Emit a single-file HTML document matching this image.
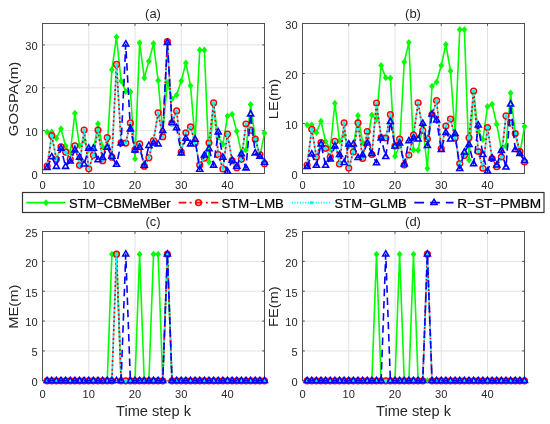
<!DOCTYPE html>
<html lang="en"><head><meta charset="utf-8"><title>GOSPA comparison</title>
<style>html,body{margin:0;padding:0;background:#fff}svg{display:block}</style></head>
<body>
<svg width="550" height="424" viewBox="0 0 550 424" font-family="'Liberation Sans', sans-serif" fill="#262626">
<rect width="550" height="424" fill="#fff"/>
<g id="ax-a">
<path d="M88.75 23.5V173.5M135.00 23.5V173.5M181.25 23.5V173.5M227.50 23.5V173.5M42.5 130.64H264.5M42.5 87.79H264.5M42.5 44.93H264.5" stroke="#e2e2e2" stroke-width="1" fill="none"/>
<path d="M42.50 173.5v-2.3M42.50 23.5v2.3M88.75 173.5v-2.3M88.75 23.5v2.3M135.00 173.5v-2.3M135.00 23.5v2.3M181.25 173.5v-2.3M181.25 23.5v2.3M227.50 173.5v-2.3M227.50 23.5v2.3M42.5 173.50h2.3M264.5 173.50h-2.3M42.5 130.64h2.3M264.5 130.64h-2.3M42.5 87.79h2.3M264.5 87.79h-2.3M42.5 44.93h2.3M264.5 44.93h-2.3" stroke="#505050" stroke-width="1" fill="none"/>
<rect x="42.5" y="23.5" width="222.0" height="150.0" fill="none" stroke="#505050" stroke-width="1"/>
<clipPath id="clip-a"><rect x="37.5" y="18.5" width="232.0" height="160.0"/></clipPath>
<g clip-path="url(#clip-a)">
<path d="M47.12 131.93L51.75 131.93L56.38 138.36L61.00 128.71L65.62 146.07L70.25 152.50L74.88 113.29L79.50 145.64L84.12 140.50L88.75 149.93L93.38 151.21L98.00 123.79L102.62 146.93L107.25 146.50L111.88 69.72L116.50 36.93L121.12 80.93L125.75 91.43L130.38 91.64L135.00 158.71L139.62 42.86L144.25 77.93L148.88 61.21L153.50 43.44L158.12 80.48L162.75 132.79L167.38 82.54L172.00 98.71L176.62 95.07L181.25 80.93L185.88 62.93L190.50 85.64L195.12 140.07L199.75 50.07L204.38 50.07L209.00 161.93L213.62 104.93L218.25 137.07L222.88 144.36L227.50 116.07L232.12 114.14L236.75 131.29L241.38 152.93L246.00 149.93L250.62 104.50L255.25 139.21L259.88 156.36L264.50 133.21" fill="none" stroke="#00ff00" stroke-width="1.6" stroke-linejoin="round"/>
<path d="M47.12 128.43L50.02 131.93L47.12 135.43L44.23 131.93Z" fill="#00ff00"/><path d="M51.75 128.43L54.65 131.93L51.75 135.43L48.85 131.93Z" fill="#00ff00"/><path d="M56.38 134.86L59.27 138.36L56.38 141.86L53.48 138.36Z" fill="#00ff00"/><path d="M61.00 125.21L63.90 128.71L61.00 132.21L58.10 128.71Z" fill="#00ff00"/><path d="M65.62 142.57L68.53 146.07L65.62 149.57L62.73 146.07Z" fill="#00ff00"/><path d="M70.25 149.00L73.15 152.50L70.25 156.00L67.35 152.50Z" fill="#00ff00"/><path d="M74.88 109.79L77.78 113.29L74.88 116.79L71.97 113.29Z" fill="#00ff00"/><path d="M79.50 142.14L82.40 145.64L79.50 149.14L76.60 145.64Z" fill="#00ff00"/><path d="M84.12 137.00L87.03 140.50L84.12 144.00L81.22 140.50Z" fill="#00ff00"/><path d="M88.75 146.43L91.65 149.93L88.75 153.43L85.85 149.93Z" fill="#00ff00"/><path d="M93.38 147.71L96.28 151.21L93.38 154.71L90.47 151.21Z" fill="#00ff00"/><path d="M98.00 120.29L100.90 123.79L98.00 127.29L95.10 123.79Z" fill="#00ff00"/><path d="M102.62 143.43L105.53 146.93L102.62 150.43L99.72 146.93Z" fill="#00ff00"/><path d="M107.25 143.00L110.15 146.50L107.25 150.00L104.35 146.50Z" fill="#00ff00"/><path d="M111.88 66.22L114.78 69.72L111.88 73.22L108.97 69.72Z" fill="#00ff00"/><path d="M116.50 33.43L119.40 36.93L116.50 40.43L113.60 36.93Z" fill="#00ff00"/><path d="M121.12 77.43L124.03 80.93L121.12 84.43L118.22 80.93Z" fill="#00ff00"/><path d="M125.75 87.93L128.65 91.43L125.75 94.93L122.85 91.43Z" fill="#00ff00"/><path d="M130.38 88.14L133.28 91.64L130.38 95.14L127.47 91.64Z" fill="#00ff00"/><path d="M135.00 155.21L137.90 158.71L135.00 162.21L132.10 158.71Z" fill="#00ff00"/><path d="M139.62 39.36L142.53 42.86L139.62 46.36L136.72 42.86Z" fill="#00ff00"/><path d="M144.25 74.43L147.15 77.93L144.25 81.43L141.35 77.93Z" fill="#00ff00"/><path d="M148.88 57.71L151.78 61.21L148.88 64.71L145.97 61.21Z" fill="#00ff00"/><path d="M153.50 39.94L156.40 43.44L153.50 46.94L150.60 43.44Z" fill="#00ff00"/><path d="M158.12 76.98L161.03 80.48L158.12 83.98L155.22 80.48Z" fill="#00ff00"/><path d="M162.75 129.29L165.65 132.79L162.75 136.29L159.85 132.79Z" fill="#00ff00"/><path d="M167.38 79.04L170.28 82.54L167.38 86.04L164.47 82.54Z" fill="#00ff00"/><path d="M172.00 95.21L174.90 98.71L172.00 102.21L169.10 98.71Z" fill="#00ff00"/><path d="M176.62 91.57L179.53 95.07L176.62 98.57L173.72 95.07Z" fill="#00ff00"/><path d="M181.25 77.43L184.15 80.93L181.25 84.43L178.35 80.93Z" fill="#00ff00"/><path d="M185.88 59.43L188.78 62.93L185.88 66.43L182.97 62.93Z" fill="#00ff00"/><path d="M190.50 82.14L193.40 85.64L190.50 89.14L187.60 85.64Z" fill="#00ff00"/><path d="M195.12 136.57L198.03 140.07L195.12 143.57L192.22 140.07Z" fill="#00ff00"/><path d="M199.75 46.57L202.65 50.07L199.75 53.57L196.85 50.07Z" fill="#00ff00"/><path d="M204.38 46.57L207.28 50.07L204.38 53.57L201.47 50.07Z" fill="#00ff00"/><path d="M209.00 158.43L211.90 161.93L209.00 165.43L206.10 161.93Z" fill="#00ff00"/><path d="M213.62 101.43L216.53 104.93L213.62 108.43L210.72 104.93Z" fill="#00ff00"/><path d="M218.25 133.57L221.15 137.07L218.25 140.57L215.35 137.07Z" fill="#00ff00"/><path d="M222.88 140.86L225.78 144.36L222.88 147.86L219.97 144.36Z" fill="#00ff00"/><path d="M227.50 112.57L230.40 116.07L227.50 119.57L224.60 116.07Z" fill="#00ff00"/><path d="M232.12 110.64L235.03 114.14L232.12 117.64L229.22 114.14Z" fill="#00ff00"/><path d="M236.75 127.79L239.65 131.29L236.75 134.79L233.85 131.29Z" fill="#00ff00"/><path d="M241.38 149.43L244.28 152.93L241.38 156.43L238.47 152.93Z" fill="#00ff00"/><path d="M246.00 146.43L248.90 149.93L246.00 153.43L243.10 149.93Z" fill="#00ff00"/><path d="M250.62 101.00L253.53 104.50L250.62 108.00L247.72 104.50Z" fill="#00ff00"/><path d="M255.25 135.71L258.15 139.21L255.25 142.71L252.35 139.21Z" fill="#00ff00"/><path d="M259.88 152.86L262.77 156.36L259.88 159.86L256.98 156.36Z" fill="#00ff00"/><path d="M264.50 129.71L267.40 133.21L264.50 136.71L261.60 133.21Z" fill="#00ff00"/>
<path d="M47.12 166.21L51.75 135.57L56.38 159.36L61.00 146.93L65.62 152.07L70.25 159.36L74.88 145.86L79.50 165.36L84.12 130.00L88.75 168.79L93.38 155.07L98.00 130.00L102.62 160.64L107.25 137.50L111.88 157.21L116.50 64.38L121.12 142.64L125.75 143.07L130.38 122.93L135.00 149.93L139.62 143.93L144.25 166.21L148.88 157.64L153.50 140.50L158.12 112.86L162.75 136.64L167.38 41.65L172.00 122.93L176.62 110.93L181.25 152.07L185.88 132.79L190.50 126.79L195.12 143.07L199.75 164.93L204.38 158.07L209.00 142.86L213.62 102.79L218.25 154.64L222.88 169.00L227.50 134.07L232.12 160.64L236.75 167.71L241.38 159.36L246.00 124.00L250.62 130.21L255.25 139.21L259.88 154.64L264.50 163.64" fill="none" stroke="#ff0000" stroke-width="1.8" stroke-linejoin="round" stroke-dasharray="2.2 2.2" stroke-dashoffset="0"/>
<circle cx="47.12" cy="166.21" r="2.85" fill="none" stroke="#ff0000" stroke-width="1.5"/><circle cx="51.75" cy="135.57" r="2.85" fill="none" stroke="#ff0000" stroke-width="1.5"/><circle cx="56.38" cy="159.36" r="2.85" fill="none" stroke="#ff0000" stroke-width="1.5"/><circle cx="61.00" cy="146.93" r="2.85" fill="none" stroke="#ff0000" stroke-width="1.5"/><circle cx="65.62" cy="152.07" r="2.85" fill="none" stroke="#ff0000" stroke-width="1.5"/><circle cx="70.25" cy="159.36" r="2.85" fill="none" stroke="#ff0000" stroke-width="1.5"/><circle cx="74.88" cy="145.86" r="2.85" fill="none" stroke="#ff0000" stroke-width="1.5"/><circle cx="79.50" cy="165.36" r="2.85" fill="none" stroke="#ff0000" stroke-width="1.5"/><circle cx="84.12" cy="130.00" r="2.85" fill="none" stroke="#ff0000" stroke-width="1.5"/><circle cx="88.75" cy="168.79" r="2.85" fill="none" stroke="#ff0000" stroke-width="1.5"/><circle cx="93.38" cy="155.07" r="2.85" fill="none" stroke="#ff0000" stroke-width="1.5"/><circle cx="98.00" cy="130.00" r="2.85" fill="none" stroke="#ff0000" stroke-width="1.5"/><circle cx="102.62" cy="160.64" r="2.85" fill="none" stroke="#ff0000" stroke-width="1.5"/><circle cx="107.25" cy="137.50" r="2.85" fill="none" stroke="#ff0000" stroke-width="1.5"/><circle cx="111.88" cy="157.21" r="2.85" fill="none" stroke="#ff0000" stroke-width="1.5"/><circle cx="116.50" cy="64.38" r="2.85" fill="none" stroke="#ff0000" stroke-width="1.5"/><circle cx="121.12" cy="142.64" r="2.85" fill="none" stroke="#ff0000" stroke-width="1.5"/><circle cx="125.75" cy="143.07" r="2.85" fill="none" stroke="#ff0000" stroke-width="1.5"/><circle cx="130.38" cy="122.93" r="2.85" fill="none" stroke="#ff0000" stroke-width="1.5"/><circle cx="135.00" cy="149.93" r="2.85" fill="none" stroke="#ff0000" stroke-width="1.5"/><circle cx="139.62" cy="143.93" r="2.85" fill="none" stroke="#ff0000" stroke-width="1.5"/><circle cx="144.25" cy="166.21" r="2.85" fill="none" stroke="#ff0000" stroke-width="1.5"/><circle cx="148.88" cy="157.64" r="2.85" fill="none" stroke="#ff0000" stroke-width="1.5"/><circle cx="153.50" cy="140.50" r="2.85" fill="none" stroke="#ff0000" stroke-width="1.5"/><circle cx="158.12" cy="112.86" r="2.85" fill="none" stroke="#ff0000" stroke-width="1.5"/><circle cx="162.75" cy="136.64" r="2.85" fill="none" stroke="#ff0000" stroke-width="1.5"/><circle cx="167.38" cy="41.65" r="2.85" fill="none" stroke="#ff0000" stroke-width="1.5"/><circle cx="172.00" cy="122.93" r="2.85" fill="none" stroke="#ff0000" stroke-width="1.5"/><circle cx="176.62" cy="110.93" r="2.85" fill="none" stroke="#ff0000" stroke-width="1.5"/><circle cx="181.25" cy="152.07" r="2.85" fill="none" stroke="#ff0000" stroke-width="1.5"/><circle cx="185.88" cy="132.79" r="2.85" fill="none" stroke="#ff0000" stroke-width="1.5"/><circle cx="190.50" cy="126.79" r="2.85" fill="none" stroke="#ff0000" stroke-width="1.5"/><circle cx="195.12" cy="143.07" r="2.85" fill="none" stroke="#ff0000" stroke-width="1.5"/><circle cx="199.75" cy="164.93" r="2.85" fill="none" stroke="#ff0000" stroke-width="1.5"/><circle cx="204.38" cy="158.07" r="2.85" fill="none" stroke="#ff0000" stroke-width="1.5"/><circle cx="209.00" cy="142.86" r="2.85" fill="none" stroke="#ff0000" stroke-width="1.5"/><circle cx="213.62" cy="102.79" r="2.85" fill="none" stroke="#ff0000" stroke-width="1.5"/><circle cx="218.25" cy="154.64" r="2.85" fill="none" stroke="#ff0000" stroke-width="1.5"/><circle cx="222.88" cy="169.00" r="2.85" fill="none" stroke="#ff0000" stroke-width="1.5"/><circle cx="227.50" cy="134.07" r="2.85" fill="none" stroke="#ff0000" stroke-width="1.5"/><circle cx="232.12" cy="160.64" r="2.85" fill="none" stroke="#ff0000" stroke-width="1.5"/><circle cx="236.75" cy="167.71" r="2.85" fill="none" stroke="#ff0000" stroke-width="1.5"/><circle cx="241.38" cy="159.36" r="2.85" fill="none" stroke="#ff0000" stroke-width="1.5"/><circle cx="246.00" cy="124.00" r="2.85" fill="none" stroke="#ff0000" stroke-width="1.5"/><circle cx="250.62" cy="130.21" r="2.85" fill="none" stroke="#ff0000" stroke-width="1.5"/><circle cx="255.25" cy="139.21" r="2.85" fill="none" stroke="#ff0000" stroke-width="1.5"/><circle cx="259.88" cy="154.64" r="2.85" fill="none" stroke="#ff0000" stroke-width="1.5"/><circle cx="264.50" cy="163.64" r="2.85" fill="none" stroke="#ff0000" stroke-width="1.5"/>
<path d="M47.12 166.21L51.75 135.57L56.38 159.36L61.00 146.93L65.62 152.07L70.25 159.36L74.88 145.86L79.50 165.36L84.12 130.00L88.75 168.79L93.38 155.07L98.00 130.00L102.62 160.64L107.25 137.50L111.88 157.21L116.50 64.38L121.12 142.64L125.75 143.07L130.38 122.93L135.00 149.93L139.62 143.93L144.25 166.21L148.88 157.64L153.50 140.50L158.12 112.86L162.75 136.64L167.38 41.65L172.00 125.07L176.62 110.93L181.25 152.07L185.88 132.79L190.50 126.79L195.12 143.07L199.75 164.93L204.38 158.07L209.00 142.86L213.62 102.79L218.25 154.64L222.88 169.00L227.50 134.07L232.12 160.64L236.75 167.71L241.38 159.36L246.00 124.00L250.62 130.21L255.25 139.21L259.88 154.64L264.50 163.64" fill="none" stroke="#00ffff" stroke-width="1.7" stroke-linejoin="round" stroke-dasharray="2.2 2.2" stroke-dashoffset="2.2"/>
<rect x="45.62" y="164.71" width="3" height="3" fill="#00ffff"/><rect x="50.25" y="134.07" width="3" height="3" fill="#00ffff"/><rect x="54.88" y="157.86" width="3" height="3" fill="#00ffff"/><rect x="59.50" y="145.43" width="3" height="3" fill="#00ffff"/><rect x="64.12" y="150.57" width="3" height="3" fill="#00ffff"/><rect x="68.75" y="157.86" width="3" height="3" fill="#00ffff"/><rect x="73.38" y="144.36" width="3" height="3" fill="#00ffff"/><rect x="78.00" y="163.86" width="3" height="3" fill="#00ffff"/><rect x="82.62" y="128.50" width="3" height="3" fill="#00ffff"/><rect x="87.25" y="167.29" width="3" height="3" fill="#00ffff"/><rect x="91.88" y="153.57" width="3" height="3" fill="#00ffff"/><rect x="96.50" y="128.50" width="3" height="3" fill="#00ffff"/><rect x="101.12" y="159.14" width="3" height="3" fill="#00ffff"/><rect x="105.75" y="136.00" width="3" height="3" fill="#00ffff"/><rect x="110.38" y="155.71" width="3" height="3" fill="#00ffff"/><rect x="115.00" y="62.88" width="3" height="3" fill="#00ffff"/><rect x="119.62" y="141.14" width="3" height="3" fill="#00ffff"/><rect x="124.25" y="141.57" width="3" height="3" fill="#00ffff"/><rect x="128.88" y="121.43" width="3" height="3" fill="#00ffff"/><rect x="133.50" y="148.43" width="3" height="3" fill="#00ffff"/><rect x="138.12" y="142.43" width="3" height="3" fill="#00ffff"/><rect x="142.75" y="164.71" width="3" height="3" fill="#00ffff"/><rect x="147.38" y="156.14" width="3" height="3" fill="#00ffff"/><rect x="152.00" y="139.00" width="3" height="3" fill="#00ffff"/><rect x="156.62" y="111.36" width="3" height="3" fill="#00ffff"/><rect x="161.25" y="135.14" width="3" height="3" fill="#00ffff"/><rect x="165.88" y="40.15" width="3" height="3" fill="#00ffff"/><rect x="170.50" y="123.57" width="3" height="3" fill="#00ffff"/><rect x="175.12" y="109.43" width="3" height="3" fill="#00ffff"/><rect x="179.75" y="150.57" width="3" height="3" fill="#00ffff"/><rect x="184.38" y="131.29" width="3" height="3" fill="#00ffff"/><rect x="189.00" y="125.29" width="3" height="3" fill="#00ffff"/><rect x="193.62" y="141.57" width="3" height="3" fill="#00ffff"/><rect x="198.25" y="163.43" width="3" height="3" fill="#00ffff"/><rect x="202.88" y="156.57" width="3" height="3" fill="#00ffff"/><rect x="207.50" y="141.36" width="3" height="3" fill="#00ffff"/><rect x="212.12" y="101.29" width="3" height="3" fill="#00ffff"/><rect x="216.75" y="153.14" width="3" height="3" fill="#00ffff"/><rect x="221.38" y="167.50" width="3" height="3" fill="#00ffff"/><rect x="226.00" y="132.57" width="3" height="3" fill="#00ffff"/><rect x="230.62" y="159.14" width="3" height="3" fill="#00ffff"/><rect x="235.25" y="166.21" width="3" height="3" fill="#00ffff"/><rect x="239.88" y="157.86" width="3" height="3" fill="#00ffff"/><rect x="244.50" y="122.50" width="3" height="3" fill="#00ffff"/><rect x="249.12" y="128.71" width="3" height="3" fill="#00ffff"/><rect x="253.75" y="137.71" width="3" height="3" fill="#00ffff"/><rect x="258.38" y="153.14" width="3" height="3" fill="#00ffff"/><rect x="263.00" y="162.14" width="3" height="3" fill="#00ffff"/>
<path d="M47.12 167.71L51.75 157.00L56.38 166.64L61.00 148.43L65.62 166.64L70.25 161.29L74.88 150.14L79.50 157.43L84.12 164.29L88.75 148.43L93.38 148.43L98.00 160.00L102.62 157.64L107.25 147.57L111.88 156.57L116.50 164.50L121.12 143.29L125.75 44.21L130.38 129.14L135.00 150.14L139.62 147.57L144.25 165.57L148.88 145.64L153.50 143.29L158.12 144.14L162.75 130.64L167.38 42.83L172.00 122.71L176.62 127.86L181.25 153.14L185.88 138.57L190.50 144.14L195.12 139.43L199.75 169.43L204.38 155.29L209.00 148.86L213.62 165.36L218.25 132.14L222.88 157.43L227.50 171.57L232.12 160.43L236.75 166.43L241.38 154.00L246.00 168.14L250.62 114.14L255.25 153.14L259.88 156.57L264.50 162.57" fill="none" stroke="#0000ff" stroke-width="1.6" stroke-linejoin="round" stroke-dasharray="7.5 4.7" stroke-dashoffset="0"/>
<path d="M47.12 164.21L50.12 169.46L44.12 169.46Z" fill="none" stroke="#0000ff" stroke-width="1.55" stroke-linejoin="miter"/><path d="M51.75 153.50L54.75 158.75L48.75 158.75Z" fill="none" stroke="#0000ff" stroke-width="1.55" stroke-linejoin="miter"/><path d="M56.38 163.14L59.38 168.39L53.38 168.39Z" fill="none" stroke="#0000ff" stroke-width="1.55" stroke-linejoin="miter"/><path d="M61.00 144.93L64.00 150.18L58.00 150.18Z" fill="none" stroke="#0000ff" stroke-width="1.55" stroke-linejoin="miter"/><path d="M65.62 163.14L68.62 168.39L62.62 168.39Z" fill="none" stroke="#0000ff" stroke-width="1.55" stroke-linejoin="miter"/><path d="M70.25 157.79L73.25 163.04L67.25 163.04Z" fill="none" stroke="#0000ff" stroke-width="1.55" stroke-linejoin="miter"/><path d="M74.88 146.64L77.88 151.89L71.88 151.89Z" fill="none" stroke="#0000ff" stroke-width="1.55" stroke-linejoin="miter"/><path d="M79.50 153.93L82.50 159.18L76.50 159.18Z" fill="none" stroke="#0000ff" stroke-width="1.55" stroke-linejoin="miter"/><path d="M84.12 160.79L87.12 166.04L81.12 166.04Z" fill="none" stroke="#0000ff" stroke-width="1.55" stroke-linejoin="miter"/><path d="M88.75 144.93L91.75 150.18L85.75 150.18Z" fill="none" stroke="#0000ff" stroke-width="1.55" stroke-linejoin="miter"/><path d="M93.38 144.93L96.38 150.18L90.38 150.18Z" fill="none" stroke="#0000ff" stroke-width="1.55" stroke-linejoin="miter"/><path d="M98.00 156.50L101.00 161.75L95.00 161.75Z" fill="none" stroke="#0000ff" stroke-width="1.55" stroke-linejoin="miter"/><path d="M102.62 154.14L105.62 159.39L99.62 159.39Z" fill="none" stroke="#0000ff" stroke-width="1.55" stroke-linejoin="miter"/><path d="M107.25 144.07L110.25 149.32L104.25 149.32Z" fill="none" stroke="#0000ff" stroke-width="1.55" stroke-linejoin="miter"/><path d="M111.88 153.07L114.88 158.32L108.88 158.32Z" fill="none" stroke="#0000ff" stroke-width="1.55" stroke-linejoin="miter"/><path d="M116.50 161.00L119.50 166.25L113.50 166.25Z" fill="none" stroke="#0000ff" stroke-width="1.55" stroke-linejoin="miter"/><path d="M121.12 139.79L124.12 145.04L118.12 145.04Z" fill="none" stroke="#0000ff" stroke-width="1.55" stroke-linejoin="miter"/><path d="M125.75 40.71L128.75 45.96L122.75 45.96Z" fill="none" stroke="#0000ff" stroke-width="1.55" stroke-linejoin="miter"/><path d="M130.38 125.64L133.38 130.89L127.38 130.89Z" fill="none" stroke="#0000ff" stroke-width="1.55" stroke-linejoin="miter"/><path d="M135.00 146.64L138.00 151.89L132.00 151.89Z" fill="none" stroke="#0000ff" stroke-width="1.55" stroke-linejoin="miter"/><path d="M139.62 144.07L142.62 149.32L136.62 149.32Z" fill="none" stroke="#0000ff" stroke-width="1.55" stroke-linejoin="miter"/><path d="M144.25 162.07L147.25 167.32L141.25 167.32Z" fill="none" stroke="#0000ff" stroke-width="1.55" stroke-linejoin="miter"/><path d="M148.88 142.14L151.88 147.39L145.88 147.39Z" fill="none" stroke="#0000ff" stroke-width="1.55" stroke-linejoin="miter"/><path d="M153.50 139.79L156.50 145.04L150.50 145.04Z" fill="none" stroke="#0000ff" stroke-width="1.55" stroke-linejoin="miter"/><path d="M158.12 140.64L161.12 145.89L155.12 145.89Z" fill="none" stroke="#0000ff" stroke-width="1.55" stroke-linejoin="miter"/><path d="M162.75 127.14L165.75 132.39L159.75 132.39Z" fill="none" stroke="#0000ff" stroke-width="1.55" stroke-linejoin="miter"/><path d="M167.38 39.33L170.38 44.58L164.38 44.58Z" fill="none" stroke="#0000ff" stroke-width="1.55" stroke-linejoin="miter"/><path d="M172.00 119.21L175.00 124.46L169.00 124.46Z" fill="none" stroke="#0000ff" stroke-width="1.55" stroke-linejoin="miter"/><path d="M176.62 124.36L179.62 129.61L173.62 129.61Z" fill="none" stroke="#0000ff" stroke-width="1.55" stroke-linejoin="miter"/><path d="M181.25 149.64L184.25 154.89L178.25 154.89Z" fill="none" stroke="#0000ff" stroke-width="1.55" stroke-linejoin="miter"/><path d="M185.88 135.07L188.88 140.32L182.88 140.32Z" fill="none" stroke="#0000ff" stroke-width="1.55" stroke-linejoin="miter"/><path d="M190.50 140.64L193.50 145.89L187.50 145.89Z" fill="none" stroke="#0000ff" stroke-width="1.55" stroke-linejoin="miter"/><path d="M195.12 135.93L198.12 141.18L192.12 141.18Z" fill="none" stroke="#0000ff" stroke-width="1.55" stroke-linejoin="miter"/><path d="M199.75 165.93L202.75 171.18L196.75 171.18Z" fill="none" stroke="#0000ff" stroke-width="1.55" stroke-linejoin="miter"/><path d="M204.38 151.79L207.38 157.04L201.38 157.04Z" fill="none" stroke="#0000ff" stroke-width="1.55" stroke-linejoin="miter"/><path d="M209.00 145.36L212.00 150.61L206.00 150.61Z" fill="none" stroke="#0000ff" stroke-width="1.55" stroke-linejoin="miter"/><path d="M213.62 161.86L216.62 167.11L210.62 167.11Z" fill="none" stroke="#0000ff" stroke-width="1.55" stroke-linejoin="miter"/><path d="M218.25 128.64L221.25 133.89L215.25 133.89Z" fill="none" stroke="#0000ff" stroke-width="1.55" stroke-linejoin="miter"/><path d="M222.88 153.93L225.88 159.18L219.88 159.18Z" fill="none" stroke="#0000ff" stroke-width="1.55" stroke-linejoin="miter"/><path d="M227.50 168.07L230.50 173.32L224.50 173.32Z" fill="none" stroke="#0000ff" stroke-width="1.55" stroke-linejoin="miter"/><path d="M232.12 156.93L235.12 162.18L229.12 162.18Z" fill="none" stroke="#0000ff" stroke-width="1.55" stroke-linejoin="miter"/><path d="M236.75 162.93L239.75 168.18L233.75 168.18Z" fill="none" stroke="#0000ff" stroke-width="1.55" stroke-linejoin="miter"/><path d="M241.38 150.50L244.38 155.75L238.38 155.75Z" fill="none" stroke="#0000ff" stroke-width="1.55" stroke-linejoin="miter"/><path d="M246.00 164.64L249.00 169.89L243.00 169.89Z" fill="none" stroke="#0000ff" stroke-width="1.55" stroke-linejoin="miter"/><path d="M250.62 110.64L253.62 115.89L247.62 115.89Z" fill="none" stroke="#0000ff" stroke-width="1.55" stroke-linejoin="miter"/><path d="M255.25 149.64L258.25 154.89L252.25 154.89Z" fill="none" stroke="#0000ff" stroke-width="1.55" stroke-linejoin="miter"/><path d="M259.88 153.07L262.88 158.32L256.88 158.32Z" fill="none" stroke="#0000ff" stroke-width="1.55" stroke-linejoin="miter"/><path d="M264.50 159.07L267.50 164.32L261.50 164.32Z" fill="none" stroke="#0000ff" stroke-width="1.55" stroke-linejoin="miter"/>
</g>
<text x="42.50" y="189.20" font-size="11.1" text-anchor="middle">0</text>
<text x="88.75" y="189.20" font-size="11.1" text-anchor="middle">10</text>
<text x="135.00" y="189.20" font-size="11.1" text-anchor="middle">20</text>
<text x="181.25" y="189.20" font-size="11.1" text-anchor="middle">30</text>
<text x="227.50" y="189.20" font-size="11.1" text-anchor="middle">40</text>
<text x="37.70" y="178.80" font-size="11.1" text-anchor="end">0</text>
<text x="37.70" y="135.94" font-size="11.1" text-anchor="end">10</text>
<text x="37.70" y="93.09" font-size="11.1" text-anchor="end">20</text>
<text x="37.70" y="50.23" font-size="11.1" text-anchor="end">30</text>
<text x="153.00" y="18.30" font-size="13" text-anchor="middle">(a)</text>
<text transform="translate(17.50 99.00) rotate(-90)" font-size="13.6" text-anchor="middle" textLength="74.4" lengthAdjust="spacingAndGlyphs">GOSPA(m)</text>
</g>
<g id="ax-b">
<path d="M348.75 23.5V173.5M395.00 23.5V173.5M441.25 23.5V173.5M487.50 23.5V173.5M302.5 123.50H524.5M302.5 73.50H524.5" stroke="#e2e2e2" stroke-width="1" fill="none"/>
<path d="M302.50 173.5v-2.3M302.50 23.5v2.3M348.75 173.5v-2.3M348.75 23.5v2.3M395.00 173.5v-2.3M395.00 23.5v2.3M441.25 173.5v-2.3M441.25 23.5v2.3M487.50 173.5v-2.3M487.50 23.5v2.3M302.5 173.50h2.3M524.5 173.50h-2.3M302.5 123.50h2.3M524.5 123.50h-2.3M302.5 73.50h2.3M524.5 73.50h-2.3M302.5 23.50h2.3M524.5 23.50h-2.3" stroke="#505050" stroke-width="1" fill="none"/>
<rect x="302.5" y="23.5" width="222.0" height="150.0" fill="none" stroke="#505050" stroke-width="1"/>
<clipPath id="clip-b"><rect x="297.5" y="18.5" width="232.0" height="160.0"/></clipPath>
<g clip-path="url(#clip-b)">
<path d="M307.12 125.00L311.75 125.00L316.38 132.50L321.00 121.25L325.62 141.50L330.25 149.00L334.88 103.25L339.50 141.00L344.12 135.00L348.75 146.00L353.38 147.50L358.00 115.50L362.62 142.50L367.25 142.00L371.88 115.00L376.50 119.50L381.12 65.50L385.75 77.75L390.38 78.00L395.00 156.25L399.62 146.00L404.25 62.00L408.88 42.50L413.50 150.00L418.12 150.25L422.75 126.00L427.38 168.50L432.00 86.25L436.62 82.00L441.25 65.50L445.88 44.50L450.50 71.00L455.12 134.50L459.75 29.50L464.38 29.50L469.00 160.00L473.62 93.50L478.25 131.00L482.88 139.50L487.50 106.50L492.12 104.25L496.75 124.25L501.38 149.50L506.00 146.00L510.62 93.00L515.25 133.50L519.88 153.50L524.50 126.50" fill="none" stroke="#00ff00" stroke-width="1.6" stroke-linejoin="round"/>
<path d="M307.12 121.50L310.02 125.00L307.12 128.50L304.23 125.00Z" fill="#00ff00"/><path d="M311.75 121.50L314.65 125.00L311.75 128.50L308.85 125.00Z" fill="#00ff00"/><path d="M316.38 129.00L319.27 132.50L316.38 136.00L313.48 132.50Z" fill="#00ff00"/><path d="M321.00 117.75L323.90 121.25L321.00 124.75L318.10 121.25Z" fill="#00ff00"/><path d="M325.62 138.00L328.52 141.50L325.62 145.00L322.73 141.50Z" fill="#00ff00"/><path d="M330.25 145.50L333.15 149.00L330.25 152.50L327.35 149.00Z" fill="#00ff00"/><path d="M334.88 99.75L337.77 103.25L334.88 106.75L331.98 103.25Z" fill="#00ff00"/><path d="M339.50 137.50L342.40 141.00L339.50 144.50L336.60 141.00Z" fill="#00ff00"/><path d="M344.12 131.50L347.02 135.00L344.12 138.50L341.23 135.00Z" fill="#00ff00"/><path d="M348.75 142.50L351.65 146.00L348.75 149.50L345.85 146.00Z" fill="#00ff00"/><path d="M353.38 144.00L356.27 147.50L353.38 151.00L350.48 147.50Z" fill="#00ff00"/><path d="M358.00 112.00L360.90 115.50L358.00 119.00L355.10 115.50Z" fill="#00ff00"/><path d="M362.62 139.00L365.52 142.50L362.62 146.00L359.73 142.50Z" fill="#00ff00"/><path d="M367.25 138.50L370.15 142.00L367.25 145.50L364.35 142.00Z" fill="#00ff00"/><path d="M371.88 111.50L374.77 115.00L371.88 118.50L368.98 115.00Z" fill="#00ff00"/><path d="M376.50 116.00L379.40 119.50L376.50 123.00L373.60 119.50Z" fill="#00ff00"/><path d="M381.12 62.00L384.02 65.50L381.12 69.00L378.23 65.50Z" fill="#00ff00"/><path d="M385.75 74.25L388.65 77.75L385.75 81.25L382.85 77.75Z" fill="#00ff00"/><path d="M390.38 74.50L393.27 78.00L390.38 81.50L387.48 78.00Z" fill="#00ff00"/><path d="M395.00 152.75L397.90 156.25L395.00 159.75L392.10 156.25Z" fill="#00ff00"/><path d="M399.62 142.50L402.52 146.00L399.62 149.50L396.73 146.00Z" fill="#00ff00"/><path d="M404.25 58.50L407.15 62.00L404.25 65.50L401.35 62.00Z" fill="#00ff00"/><path d="M408.88 39.00L411.77 42.50L408.88 46.00L405.98 42.50Z" fill="#00ff00"/><path d="M413.50 146.50L416.40 150.00L413.50 153.50L410.60 150.00Z" fill="#00ff00"/><path d="M418.12 146.75L421.02 150.25L418.12 153.75L415.23 150.25Z" fill="#00ff00"/><path d="M422.75 122.50L425.65 126.00L422.75 129.50L419.85 126.00Z" fill="#00ff00"/><path d="M427.38 165.00L430.27 168.50L427.38 172.00L424.48 168.50Z" fill="#00ff00"/><path d="M432.00 82.75L434.90 86.25L432.00 89.75L429.10 86.25Z" fill="#00ff00"/><path d="M436.62 78.50L439.52 82.00L436.62 85.50L433.73 82.00Z" fill="#00ff00"/><path d="M441.25 62.00L444.15 65.50L441.25 69.00L438.35 65.50Z" fill="#00ff00"/><path d="M445.88 41.00L448.77 44.50L445.88 48.00L442.98 44.50Z" fill="#00ff00"/><path d="M450.50 67.50L453.40 71.00L450.50 74.50L447.60 71.00Z" fill="#00ff00"/><path d="M455.12 131.00L458.02 134.50L455.12 138.00L452.23 134.50Z" fill="#00ff00"/><path d="M459.75 26.00L462.65 29.50L459.75 33.00L456.85 29.50Z" fill="#00ff00"/><path d="M464.38 26.00L467.27 29.50L464.38 33.00L461.48 29.50Z" fill="#00ff00"/><path d="M469.00 156.50L471.90 160.00L469.00 163.50L466.10 160.00Z" fill="#00ff00"/><path d="M473.62 90.00L476.52 93.50L473.62 97.00L470.73 93.50Z" fill="#00ff00"/><path d="M478.25 127.50L481.15 131.00L478.25 134.50L475.35 131.00Z" fill="#00ff00"/><path d="M482.88 136.00L485.77 139.50L482.88 143.00L479.98 139.50Z" fill="#00ff00"/><path d="M487.50 103.00L490.40 106.50L487.50 110.00L484.60 106.50Z" fill="#00ff00"/><path d="M492.12 100.75L495.02 104.25L492.12 107.75L489.23 104.25Z" fill="#00ff00"/><path d="M496.75 120.75L499.65 124.25L496.75 127.75L493.85 124.25Z" fill="#00ff00"/><path d="M501.38 146.00L504.27 149.50L501.38 153.00L498.48 149.50Z" fill="#00ff00"/><path d="M506.00 142.50L508.90 146.00L506.00 149.50L503.10 146.00Z" fill="#00ff00"/><path d="M510.62 89.50L513.52 93.00L510.62 96.50L507.73 93.00Z" fill="#00ff00"/><path d="M515.25 130.00L518.15 133.50L515.25 137.00L512.35 133.50Z" fill="#00ff00"/><path d="M519.88 150.00L522.77 153.50L519.88 157.00L516.98 153.50Z" fill="#00ff00"/><path d="M524.50 123.00L527.40 126.50L524.50 130.00L521.60 126.50Z" fill="#00ff00"/>
<path d="M307.12 165.00L311.75 129.25L316.38 157.00L321.00 142.50L325.62 148.50L330.25 157.00L334.88 141.25L339.50 164.00L344.12 122.75L348.75 168.00L353.38 152.00L358.00 122.75L362.62 158.50L367.25 131.50L371.88 154.50L376.50 103.00L381.12 137.50L385.75 138.00L390.38 114.50L395.00 146.00L399.62 139.00L404.25 165.00L408.88 155.00L413.50 135.00L418.12 102.75L422.75 130.50L427.38 139.00L432.00 114.50L436.62 100.50L441.25 148.50L445.88 126.00L450.50 119.00L455.12 138.00L459.75 163.50L464.38 155.50L469.00 137.75L473.62 91.00L478.25 151.50L482.88 168.25L487.50 127.50L492.12 158.50L496.75 166.75L501.38 157.00L506.00 115.75L510.62 123.00L515.25 133.50L519.88 151.50L524.50 162.00" fill="none" stroke="#ff0000" stroke-width="1.8" stroke-linejoin="round" stroke-dasharray="2.2 2.2" stroke-dashoffset="0"/>
<circle cx="307.12" cy="165.00" r="2.85" fill="none" stroke="#ff0000" stroke-width="1.5"/><circle cx="311.75" cy="129.25" r="2.85" fill="none" stroke="#ff0000" stroke-width="1.5"/><circle cx="316.38" cy="157.00" r="2.85" fill="none" stroke="#ff0000" stroke-width="1.5"/><circle cx="321.00" cy="142.50" r="2.85" fill="none" stroke="#ff0000" stroke-width="1.5"/><circle cx="325.62" cy="148.50" r="2.85" fill="none" stroke="#ff0000" stroke-width="1.5"/><circle cx="330.25" cy="157.00" r="2.85" fill="none" stroke="#ff0000" stroke-width="1.5"/><circle cx="334.88" cy="141.25" r="2.85" fill="none" stroke="#ff0000" stroke-width="1.5"/><circle cx="339.50" cy="164.00" r="2.85" fill="none" stroke="#ff0000" stroke-width="1.5"/><circle cx="344.12" cy="122.75" r="2.85" fill="none" stroke="#ff0000" stroke-width="1.5"/><circle cx="348.75" cy="168.00" r="2.85" fill="none" stroke="#ff0000" stroke-width="1.5"/><circle cx="353.38" cy="152.00" r="2.85" fill="none" stroke="#ff0000" stroke-width="1.5"/><circle cx="358.00" cy="122.75" r="2.85" fill="none" stroke="#ff0000" stroke-width="1.5"/><circle cx="362.62" cy="158.50" r="2.85" fill="none" stroke="#ff0000" stroke-width="1.5"/><circle cx="367.25" cy="131.50" r="2.85" fill="none" stroke="#ff0000" stroke-width="1.5"/><circle cx="371.88" cy="154.50" r="2.85" fill="none" stroke="#ff0000" stroke-width="1.5"/><circle cx="376.50" cy="103.00" r="2.85" fill="none" stroke="#ff0000" stroke-width="1.5"/><circle cx="381.12" cy="137.50" r="2.85" fill="none" stroke="#ff0000" stroke-width="1.5"/><circle cx="385.75" cy="138.00" r="2.85" fill="none" stroke="#ff0000" stroke-width="1.5"/><circle cx="390.38" cy="114.50" r="2.85" fill="none" stroke="#ff0000" stroke-width="1.5"/><circle cx="395.00" cy="146.00" r="2.85" fill="none" stroke="#ff0000" stroke-width="1.5"/><circle cx="399.62" cy="139.00" r="2.85" fill="none" stroke="#ff0000" stroke-width="1.5"/><circle cx="404.25" cy="165.00" r="2.85" fill="none" stroke="#ff0000" stroke-width="1.5"/><circle cx="408.88" cy="155.00" r="2.85" fill="none" stroke="#ff0000" stroke-width="1.5"/><circle cx="413.50" cy="135.00" r="2.85" fill="none" stroke="#ff0000" stroke-width="1.5"/><circle cx="418.12" cy="102.75" r="2.85" fill="none" stroke="#ff0000" stroke-width="1.5"/><circle cx="422.75" cy="130.50" r="2.85" fill="none" stroke="#ff0000" stroke-width="1.5"/><circle cx="427.38" cy="139.00" r="2.85" fill="none" stroke="#ff0000" stroke-width="1.5"/><circle cx="432.00" cy="114.50" r="2.85" fill="none" stroke="#ff0000" stroke-width="1.5"/><circle cx="436.62" cy="100.50" r="2.85" fill="none" stroke="#ff0000" stroke-width="1.5"/><circle cx="441.25" cy="148.50" r="2.85" fill="none" stroke="#ff0000" stroke-width="1.5"/><circle cx="445.88" cy="126.00" r="2.85" fill="none" stroke="#ff0000" stroke-width="1.5"/><circle cx="450.50" cy="119.00" r="2.85" fill="none" stroke="#ff0000" stroke-width="1.5"/><circle cx="455.12" cy="138.00" r="2.85" fill="none" stroke="#ff0000" stroke-width="1.5"/><circle cx="459.75" cy="163.50" r="2.85" fill="none" stroke="#ff0000" stroke-width="1.5"/><circle cx="464.38" cy="155.50" r="2.85" fill="none" stroke="#ff0000" stroke-width="1.5"/><circle cx="469.00" cy="137.75" r="2.85" fill="none" stroke="#ff0000" stroke-width="1.5"/><circle cx="473.62" cy="91.00" r="2.85" fill="none" stroke="#ff0000" stroke-width="1.5"/><circle cx="478.25" cy="151.50" r="2.85" fill="none" stroke="#ff0000" stroke-width="1.5"/><circle cx="482.88" cy="168.25" r="2.85" fill="none" stroke="#ff0000" stroke-width="1.5"/><circle cx="487.50" cy="127.50" r="2.85" fill="none" stroke="#ff0000" stroke-width="1.5"/><circle cx="492.12" cy="158.50" r="2.85" fill="none" stroke="#ff0000" stroke-width="1.5"/><circle cx="496.75" cy="166.75" r="2.85" fill="none" stroke="#ff0000" stroke-width="1.5"/><circle cx="501.38" cy="157.00" r="2.85" fill="none" stroke="#ff0000" stroke-width="1.5"/><circle cx="506.00" cy="115.75" r="2.85" fill="none" stroke="#ff0000" stroke-width="1.5"/><circle cx="510.62" cy="123.00" r="2.85" fill="none" stroke="#ff0000" stroke-width="1.5"/><circle cx="515.25" cy="133.50" r="2.85" fill="none" stroke="#ff0000" stroke-width="1.5"/><circle cx="519.88" cy="151.50" r="2.85" fill="none" stroke="#ff0000" stroke-width="1.5"/><circle cx="524.50" cy="162.00" r="2.85" fill="none" stroke="#ff0000" stroke-width="1.5"/>
<path d="M307.12 165.00L311.75 129.25L316.38 157.00L321.00 142.50L325.62 148.50L330.25 157.00L334.88 141.25L339.50 164.00L344.12 122.75L348.75 168.00L353.38 152.00L358.00 122.75L362.62 158.50L367.25 131.50L371.88 154.50L376.50 103.00L381.12 137.50L385.75 138.00L390.38 114.50L395.00 146.00L399.62 139.00L404.25 165.00L408.88 155.00L413.50 135.00L418.12 102.75L422.75 130.50L427.38 139.00L432.00 117.00L436.62 100.50L441.25 148.50L445.88 126.00L450.50 119.00L455.12 138.00L459.75 163.50L464.38 155.50L469.00 137.75L473.62 91.00L478.25 151.50L482.88 168.25L487.50 127.50L492.12 158.50L496.75 166.75L501.38 157.00L506.00 115.75L510.62 123.00L515.25 133.50L519.88 151.50L524.50 162.00" fill="none" stroke="#00ffff" stroke-width="1.7" stroke-linejoin="round" stroke-dasharray="2.2 2.2" stroke-dashoffset="2.2"/>
<rect x="305.62" y="163.50" width="3" height="3" fill="#00ffff"/><rect x="310.25" y="127.75" width="3" height="3" fill="#00ffff"/><rect x="314.88" y="155.50" width="3" height="3" fill="#00ffff"/><rect x="319.50" y="141.00" width="3" height="3" fill="#00ffff"/><rect x="324.12" y="147.00" width="3" height="3" fill="#00ffff"/><rect x="328.75" y="155.50" width="3" height="3" fill="#00ffff"/><rect x="333.38" y="139.75" width="3" height="3" fill="#00ffff"/><rect x="338.00" y="162.50" width="3" height="3" fill="#00ffff"/><rect x="342.62" y="121.25" width="3" height="3" fill="#00ffff"/><rect x="347.25" y="166.50" width="3" height="3" fill="#00ffff"/><rect x="351.88" y="150.50" width="3" height="3" fill="#00ffff"/><rect x="356.50" y="121.25" width="3" height="3" fill="#00ffff"/><rect x="361.12" y="157.00" width="3" height="3" fill="#00ffff"/><rect x="365.75" y="130.00" width="3" height="3" fill="#00ffff"/><rect x="370.38" y="153.00" width="3" height="3" fill="#00ffff"/><rect x="375.00" y="101.50" width="3" height="3" fill="#00ffff"/><rect x="379.62" y="136.00" width="3" height="3" fill="#00ffff"/><rect x="384.25" y="136.50" width="3" height="3" fill="#00ffff"/><rect x="388.88" y="113.00" width="3" height="3" fill="#00ffff"/><rect x="393.50" y="144.50" width="3" height="3" fill="#00ffff"/><rect x="398.12" y="137.50" width="3" height="3" fill="#00ffff"/><rect x="402.75" y="163.50" width="3" height="3" fill="#00ffff"/><rect x="407.38" y="153.50" width="3" height="3" fill="#00ffff"/><rect x="412.00" y="133.50" width="3" height="3" fill="#00ffff"/><rect x="416.62" y="101.25" width="3" height="3" fill="#00ffff"/><rect x="421.25" y="129.00" width="3" height="3" fill="#00ffff"/><rect x="425.88" y="137.50" width="3" height="3" fill="#00ffff"/><rect x="430.50" y="115.50" width="3" height="3" fill="#00ffff"/><rect x="435.12" y="99.00" width="3" height="3" fill="#00ffff"/><rect x="439.75" y="147.00" width="3" height="3" fill="#00ffff"/><rect x="444.38" y="124.50" width="3" height="3" fill="#00ffff"/><rect x="449.00" y="117.50" width="3" height="3" fill="#00ffff"/><rect x="453.62" y="136.50" width="3" height="3" fill="#00ffff"/><rect x="458.25" y="162.00" width="3" height="3" fill="#00ffff"/><rect x="462.88" y="154.00" width="3" height="3" fill="#00ffff"/><rect x="467.50" y="136.25" width="3" height="3" fill="#00ffff"/><rect x="472.12" y="89.50" width="3" height="3" fill="#00ffff"/><rect x="476.75" y="150.00" width="3" height="3" fill="#00ffff"/><rect x="481.38" y="166.75" width="3" height="3" fill="#00ffff"/><rect x="486.00" y="126.00" width="3" height="3" fill="#00ffff"/><rect x="490.62" y="157.00" width="3" height="3" fill="#00ffff"/><rect x="495.25" y="165.25" width="3" height="3" fill="#00ffff"/><rect x="499.88" y="155.50" width="3" height="3" fill="#00ffff"/><rect x="504.50" y="114.25" width="3" height="3" fill="#00ffff"/><rect x="509.12" y="121.50" width="3" height="3" fill="#00ffff"/><rect x="513.75" y="132.00" width="3" height="3" fill="#00ffff"/><rect x="518.38" y="150.00" width="3" height="3" fill="#00ffff"/><rect x="523.00" y="160.50" width="3" height="3" fill="#00ffff"/>
<path d="M307.12 166.75L311.75 154.25L316.38 165.50L321.00 144.25L325.62 165.50L330.25 159.25L334.88 146.25L339.50 154.75L344.12 162.75L348.75 144.25L353.38 144.25L358.00 157.75L362.62 155.00L367.25 143.25L371.88 153.75L376.50 163.00L381.12 138.25L385.75 156.75L390.38 121.75L395.00 146.25L399.62 143.25L404.25 164.25L408.88 141.00L413.50 138.25L418.12 139.25L422.75 123.50L427.38 145.75L432.00 114.25L436.62 120.25L441.25 149.75L445.88 132.75L450.50 139.25L455.12 133.75L459.75 168.75L464.38 152.25L469.00 144.75L473.62 164.00L478.25 125.25L482.88 154.75L487.50 171.25L492.12 158.25L496.75 165.25L501.38 150.75L506.00 167.25L510.62 104.25L515.25 149.75L519.88 153.75L524.50 160.75" fill="none" stroke="#0000ff" stroke-width="1.6" stroke-linejoin="round" stroke-dasharray="7.5 4.7" stroke-dashoffset="0"/>
<path d="M307.12 163.25L310.12 168.50L304.12 168.50Z" fill="none" stroke="#0000ff" stroke-width="1.55" stroke-linejoin="miter"/><path d="M311.75 150.75L314.75 156.00L308.75 156.00Z" fill="none" stroke="#0000ff" stroke-width="1.55" stroke-linejoin="miter"/><path d="M316.38 162.00L319.38 167.25L313.38 167.25Z" fill="none" stroke="#0000ff" stroke-width="1.55" stroke-linejoin="miter"/><path d="M321.00 140.75L324.00 146.00L318.00 146.00Z" fill="none" stroke="#0000ff" stroke-width="1.55" stroke-linejoin="miter"/><path d="M325.62 162.00L328.62 167.25L322.62 167.25Z" fill="none" stroke="#0000ff" stroke-width="1.55" stroke-linejoin="miter"/><path d="M330.25 155.75L333.25 161.00L327.25 161.00Z" fill="none" stroke="#0000ff" stroke-width="1.55" stroke-linejoin="miter"/><path d="M334.88 142.75L337.88 148.00L331.88 148.00Z" fill="none" stroke="#0000ff" stroke-width="1.55" stroke-linejoin="miter"/><path d="M339.50 151.25L342.50 156.50L336.50 156.50Z" fill="none" stroke="#0000ff" stroke-width="1.55" stroke-linejoin="miter"/><path d="M344.12 159.25L347.12 164.50L341.12 164.50Z" fill="none" stroke="#0000ff" stroke-width="1.55" stroke-linejoin="miter"/><path d="M348.75 140.75L351.75 146.00L345.75 146.00Z" fill="none" stroke="#0000ff" stroke-width="1.55" stroke-linejoin="miter"/><path d="M353.38 140.75L356.38 146.00L350.38 146.00Z" fill="none" stroke="#0000ff" stroke-width="1.55" stroke-linejoin="miter"/><path d="M358.00 154.25L361.00 159.50L355.00 159.50Z" fill="none" stroke="#0000ff" stroke-width="1.55" stroke-linejoin="miter"/><path d="M362.62 151.50L365.62 156.75L359.62 156.75Z" fill="none" stroke="#0000ff" stroke-width="1.55" stroke-linejoin="miter"/><path d="M367.25 139.75L370.25 145.00L364.25 145.00Z" fill="none" stroke="#0000ff" stroke-width="1.55" stroke-linejoin="miter"/><path d="M371.88 150.25L374.88 155.50L368.88 155.50Z" fill="none" stroke="#0000ff" stroke-width="1.55" stroke-linejoin="miter"/><path d="M376.50 159.50L379.50 164.75L373.50 164.75Z" fill="none" stroke="#0000ff" stroke-width="1.55" stroke-linejoin="miter"/><path d="M381.12 134.75L384.12 140.00L378.12 140.00Z" fill="none" stroke="#0000ff" stroke-width="1.55" stroke-linejoin="miter"/><path d="M385.75 153.25L388.75 158.50L382.75 158.50Z" fill="none" stroke="#0000ff" stroke-width="1.55" stroke-linejoin="miter"/><path d="M390.38 118.25L393.38 123.50L387.38 123.50Z" fill="none" stroke="#0000ff" stroke-width="1.55" stroke-linejoin="miter"/><path d="M395.00 142.75L398.00 148.00L392.00 148.00Z" fill="none" stroke="#0000ff" stroke-width="1.55" stroke-linejoin="miter"/><path d="M399.62 139.75L402.62 145.00L396.62 145.00Z" fill="none" stroke="#0000ff" stroke-width="1.55" stroke-linejoin="miter"/><path d="M404.25 160.75L407.25 166.00L401.25 166.00Z" fill="none" stroke="#0000ff" stroke-width="1.55" stroke-linejoin="miter"/><path d="M408.88 137.50L411.88 142.75L405.88 142.75Z" fill="none" stroke="#0000ff" stroke-width="1.55" stroke-linejoin="miter"/><path d="M413.50 134.75L416.50 140.00L410.50 140.00Z" fill="none" stroke="#0000ff" stroke-width="1.55" stroke-linejoin="miter"/><path d="M418.12 135.75L421.12 141.00L415.12 141.00Z" fill="none" stroke="#0000ff" stroke-width="1.55" stroke-linejoin="miter"/><path d="M422.75 120.00L425.75 125.25L419.75 125.25Z" fill="none" stroke="#0000ff" stroke-width="1.55" stroke-linejoin="miter"/><path d="M427.38 142.25L430.38 147.50L424.38 147.50Z" fill="none" stroke="#0000ff" stroke-width="1.55" stroke-linejoin="miter"/><path d="M432.00 110.75L435.00 116.00L429.00 116.00Z" fill="none" stroke="#0000ff" stroke-width="1.55" stroke-linejoin="miter"/><path d="M436.62 116.75L439.62 122.00L433.62 122.00Z" fill="none" stroke="#0000ff" stroke-width="1.55" stroke-linejoin="miter"/><path d="M441.25 146.25L444.25 151.50L438.25 151.50Z" fill="none" stroke="#0000ff" stroke-width="1.55" stroke-linejoin="miter"/><path d="M445.88 129.25L448.88 134.50L442.88 134.50Z" fill="none" stroke="#0000ff" stroke-width="1.55" stroke-linejoin="miter"/><path d="M450.50 135.75L453.50 141.00L447.50 141.00Z" fill="none" stroke="#0000ff" stroke-width="1.55" stroke-linejoin="miter"/><path d="M455.12 130.25L458.12 135.50L452.12 135.50Z" fill="none" stroke="#0000ff" stroke-width="1.55" stroke-linejoin="miter"/><path d="M459.75 165.25L462.75 170.50L456.75 170.50Z" fill="none" stroke="#0000ff" stroke-width="1.55" stroke-linejoin="miter"/><path d="M464.38 148.75L467.38 154.00L461.38 154.00Z" fill="none" stroke="#0000ff" stroke-width="1.55" stroke-linejoin="miter"/><path d="M469.00 141.25L472.00 146.50L466.00 146.50Z" fill="none" stroke="#0000ff" stroke-width="1.55" stroke-linejoin="miter"/><path d="M473.62 160.50L476.62 165.75L470.62 165.75Z" fill="none" stroke="#0000ff" stroke-width="1.55" stroke-linejoin="miter"/><path d="M478.25 121.75L481.25 127.00L475.25 127.00Z" fill="none" stroke="#0000ff" stroke-width="1.55" stroke-linejoin="miter"/><path d="M482.88 151.25L485.88 156.50L479.88 156.50Z" fill="none" stroke="#0000ff" stroke-width="1.55" stroke-linejoin="miter"/><path d="M487.50 167.75L490.50 173.00L484.50 173.00Z" fill="none" stroke="#0000ff" stroke-width="1.55" stroke-linejoin="miter"/><path d="M492.12 154.75L495.12 160.00L489.12 160.00Z" fill="none" stroke="#0000ff" stroke-width="1.55" stroke-linejoin="miter"/><path d="M496.75 161.75L499.75 167.00L493.75 167.00Z" fill="none" stroke="#0000ff" stroke-width="1.55" stroke-linejoin="miter"/><path d="M501.38 147.25L504.38 152.50L498.38 152.50Z" fill="none" stroke="#0000ff" stroke-width="1.55" stroke-linejoin="miter"/><path d="M506.00 163.75L509.00 169.00L503.00 169.00Z" fill="none" stroke="#0000ff" stroke-width="1.55" stroke-linejoin="miter"/><path d="M510.62 100.75L513.62 106.00L507.62 106.00Z" fill="none" stroke="#0000ff" stroke-width="1.55" stroke-linejoin="miter"/><path d="M515.25 146.25L518.25 151.50L512.25 151.50Z" fill="none" stroke="#0000ff" stroke-width="1.55" stroke-linejoin="miter"/><path d="M519.88 150.25L522.88 155.50L516.88 155.50Z" fill="none" stroke="#0000ff" stroke-width="1.55" stroke-linejoin="miter"/><path d="M524.50 157.25L527.50 162.50L521.50 162.50Z" fill="none" stroke="#0000ff" stroke-width="1.55" stroke-linejoin="miter"/>
</g>
<text x="302.50" y="189.20" font-size="11.1" text-anchor="middle">0</text>
<text x="348.75" y="189.20" font-size="11.1" text-anchor="middle">10</text>
<text x="395.00" y="189.20" font-size="11.1" text-anchor="middle">20</text>
<text x="441.25" y="189.20" font-size="11.1" text-anchor="middle">30</text>
<text x="487.50" y="189.20" font-size="11.1" text-anchor="middle">40</text>
<text x="297.70" y="178.80" font-size="11.1" text-anchor="end">0</text>
<text x="297.70" y="128.80" font-size="11.1" text-anchor="end">10</text>
<text x="297.70" y="78.80" font-size="11.1" text-anchor="end">20</text>
<text x="297.70" y="28.80" font-size="11.1" text-anchor="end">30</text>
<text x="413.00" y="18.30" font-size="13" text-anchor="middle">(b)</text>
<text transform="translate(277.50 99.00) rotate(-90)" font-size="13.6" text-anchor="middle" textLength="40.4" lengthAdjust="spacingAndGlyphs">LE(m)</text>
</g>
<g id="ax-c">
<path d="M88.75 231.5V380.8M135.00 231.5V380.8M181.25 231.5V380.8M227.50 231.5V380.8M42.5 350.94H264.5M42.5 321.08H264.5M42.5 291.22H264.5M42.5 261.36H264.5" stroke="#e2e2e2" stroke-width="1" fill="none"/>
<path d="M42.50 380.8v-2.3M42.50 231.5v2.3M88.75 380.8v-2.3M88.75 231.5v2.3M135.00 380.8v-2.3M135.00 231.5v2.3M181.25 380.8v-2.3M181.25 231.5v2.3M227.50 380.8v-2.3M227.50 231.5v2.3M42.5 380.80h2.3M264.5 380.80h-2.3M42.5 350.94h2.3M264.5 350.94h-2.3M42.5 321.08h2.3M264.5 321.08h-2.3M42.5 291.22h2.3M264.5 291.22h-2.3M42.5 261.36h2.3M264.5 261.36h-2.3M42.5 231.50h2.3M264.5 231.50h-2.3" stroke="#505050" stroke-width="1" fill="none"/>
<rect x="42.5" y="231.5" width="222.0" height="149.3" fill="none" stroke="#505050" stroke-width="1"/>
<clipPath id="clip-c"><rect x="37.5" y="226.5" width="232.0" height="159.3"/></clipPath>
<g clip-path="url(#clip-c)">
<path d="M47.12 380.80L51.75 380.80L56.38 380.80L61.00 380.80L65.62 380.80L70.25 380.80L74.88 380.80L79.50 380.80L84.12 380.80L88.75 380.80L93.38 380.80L98.00 380.80L102.62 380.80L107.25 380.80L111.88 254.19L116.50 254.19L121.12 380.80L125.75 380.80L130.38 380.80L135.00 380.80L139.62 254.19L144.25 380.80L148.88 380.80L153.50 254.19L158.12 254.19L162.75 380.80L167.38 254.19L172.00 380.80L176.62 380.80L181.25 380.80L185.88 380.80L190.50 380.80L195.12 380.80L199.75 380.80L204.38 380.80L209.00 380.80L213.62 380.80L218.25 380.80L222.88 380.80L227.50 380.80L232.12 380.80L236.75 380.80L241.38 380.80L246.00 380.80L250.62 380.80L255.25 380.80L259.88 380.80L264.50 380.80" fill="none" stroke="#00ff00" stroke-width="1.6" stroke-linejoin="round"/>
<path d="M47.12 377.30L50.02 380.80L47.12 384.30L44.23 380.80Z" fill="#00ff00"/><path d="M51.75 377.30L54.65 380.80L51.75 384.30L48.85 380.80Z" fill="#00ff00"/><path d="M56.38 377.30L59.27 380.80L56.38 384.30L53.48 380.80Z" fill="#00ff00"/><path d="M61.00 377.30L63.90 380.80L61.00 384.30L58.10 380.80Z" fill="#00ff00"/><path d="M65.62 377.30L68.53 380.80L65.62 384.30L62.73 380.80Z" fill="#00ff00"/><path d="M70.25 377.30L73.15 380.80L70.25 384.30L67.35 380.80Z" fill="#00ff00"/><path d="M74.88 377.30L77.78 380.80L74.88 384.30L71.97 380.80Z" fill="#00ff00"/><path d="M79.50 377.30L82.40 380.80L79.50 384.30L76.60 380.80Z" fill="#00ff00"/><path d="M84.12 377.30L87.03 380.80L84.12 384.30L81.22 380.80Z" fill="#00ff00"/><path d="M88.75 377.30L91.65 380.80L88.75 384.30L85.85 380.80Z" fill="#00ff00"/><path d="M93.38 377.30L96.28 380.80L93.38 384.30L90.47 380.80Z" fill="#00ff00"/><path d="M98.00 377.30L100.90 380.80L98.00 384.30L95.10 380.80Z" fill="#00ff00"/><path d="M102.62 377.30L105.53 380.80L102.62 384.30L99.72 380.80Z" fill="#00ff00"/><path d="M107.25 377.30L110.15 380.80L107.25 384.30L104.35 380.80Z" fill="#00ff00"/><path d="M111.88 250.69L114.78 254.19L111.88 257.69L108.97 254.19Z" fill="#00ff00"/><path d="M116.50 250.69L119.40 254.19L116.50 257.69L113.60 254.19Z" fill="#00ff00"/><path d="M121.12 377.30L124.03 380.80L121.12 384.30L118.22 380.80Z" fill="#00ff00"/><path d="M125.75 377.30L128.65 380.80L125.75 384.30L122.85 380.80Z" fill="#00ff00"/><path d="M130.38 377.30L133.28 380.80L130.38 384.30L127.47 380.80Z" fill="#00ff00"/><path d="M135.00 377.30L137.90 380.80L135.00 384.30L132.10 380.80Z" fill="#00ff00"/><path d="M139.62 250.69L142.53 254.19L139.62 257.69L136.72 254.19Z" fill="#00ff00"/><path d="M144.25 377.30L147.15 380.80L144.25 384.30L141.35 380.80Z" fill="#00ff00"/><path d="M148.88 377.30L151.78 380.80L148.88 384.30L145.97 380.80Z" fill="#00ff00"/><path d="M153.50 250.69L156.40 254.19L153.50 257.69L150.60 254.19Z" fill="#00ff00"/><path d="M158.12 250.69L161.03 254.19L158.12 257.69L155.22 254.19Z" fill="#00ff00"/><path d="M162.75 377.30L165.65 380.80L162.75 384.30L159.85 380.80Z" fill="#00ff00"/><path d="M167.38 250.69L170.28 254.19L167.38 257.69L164.47 254.19Z" fill="#00ff00"/><path d="M172.00 377.30L174.90 380.80L172.00 384.30L169.10 380.80Z" fill="#00ff00"/><path d="M176.62 377.30L179.53 380.80L176.62 384.30L173.72 380.80Z" fill="#00ff00"/><path d="M181.25 377.30L184.15 380.80L181.25 384.30L178.35 380.80Z" fill="#00ff00"/><path d="M185.88 377.30L188.78 380.80L185.88 384.30L182.97 380.80Z" fill="#00ff00"/><path d="M190.50 377.30L193.40 380.80L190.50 384.30L187.60 380.80Z" fill="#00ff00"/><path d="M195.12 377.30L198.03 380.80L195.12 384.30L192.22 380.80Z" fill="#00ff00"/><path d="M199.75 377.30L202.65 380.80L199.75 384.30L196.85 380.80Z" fill="#00ff00"/><path d="M204.38 377.30L207.28 380.80L204.38 384.30L201.47 380.80Z" fill="#00ff00"/><path d="M209.00 377.30L211.90 380.80L209.00 384.30L206.10 380.80Z" fill="#00ff00"/><path d="M213.62 377.30L216.53 380.80L213.62 384.30L210.72 380.80Z" fill="#00ff00"/><path d="M218.25 377.30L221.15 380.80L218.25 384.30L215.35 380.80Z" fill="#00ff00"/><path d="M222.88 377.30L225.78 380.80L222.88 384.30L219.97 380.80Z" fill="#00ff00"/><path d="M227.50 377.30L230.40 380.80L227.50 384.30L224.60 380.80Z" fill="#00ff00"/><path d="M232.12 377.30L235.03 380.80L232.12 384.30L229.22 380.80Z" fill="#00ff00"/><path d="M236.75 377.30L239.65 380.80L236.75 384.30L233.85 380.80Z" fill="#00ff00"/><path d="M241.38 377.30L244.28 380.80L241.38 384.30L238.47 380.80Z" fill="#00ff00"/><path d="M246.00 377.30L248.90 380.80L246.00 384.30L243.10 380.80Z" fill="#00ff00"/><path d="M250.62 377.30L253.53 380.80L250.62 384.30L247.72 380.80Z" fill="#00ff00"/><path d="M255.25 377.30L258.15 380.80L255.25 384.30L252.35 380.80Z" fill="#00ff00"/><path d="M259.88 377.30L262.77 380.80L259.88 384.30L256.98 380.80Z" fill="#00ff00"/><path d="M264.50 377.30L267.40 380.80L264.50 384.30L261.60 380.80Z" fill="#00ff00"/>
<path d="M47.12 380.80L51.75 380.80L56.38 380.80L61.00 380.80L65.62 380.80L70.25 380.80L74.88 380.80L79.50 380.80L84.12 380.80L88.75 380.80L93.38 380.80L98.00 380.80L102.62 380.80L107.25 380.80L111.88 380.80L116.50 254.19L121.12 380.80L125.75 380.80L130.38 380.80L135.00 380.80L139.62 380.80L144.25 380.80L148.88 380.80L153.50 380.80L158.12 380.80L162.75 380.80L167.38 254.19L172.00 380.80L176.62 380.80L181.25 380.80L185.88 380.80L190.50 380.80L195.12 380.80L199.75 380.80L204.38 380.80L209.00 380.80L213.62 380.80L218.25 380.80L222.88 380.80L227.50 380.80L232.12 380.80L236.75 380.80L241.38 380.80L246.00 380.80L250.62 380.80L255.25 380.80L259.88 380.80L264.50 380.80" fill="none" stroke="#ff0000" stroke-width="1.8" stroke-linejoin="round" stroke-dasharray="2.2 2.2" stroke-dashoffset="0"/>
<circle cx="47.12" cy="380.80" r="2.85" fill="none" stroke="#ff0000" stroke-width="1.5"/><circle cx="51.75" cy="380.80" r="2.85" fill="none" stroke="#ff0000" stroke-width="1.5"/><circle cx="56.38" cy="380.80" r="2.85" fill="none" stroke="#ff0000" stroke-width="1.5"/><circle cx="61.00" cy="380.80" r="2.85" fill="none" stroke="#ff0000" stroke-width="1.5"/><circle cx="65.62" cy="380.80" r="2.85" fill="none" stroke="#ff0000" stroke-width="1.5"/><circle cx="70.25" cy="380.80" r="2.85" fill="none" stroke="#ff0000" stroke-width="1.5"/><circle cx="74.88" cy="380.80" r="2.85" fill="none" stroke="#ff0000" stroke-width="1.5"/><circle cx="79.50" cy="380.80" r="2.85" fill="none" stroke="#ff0000" stroke-width="1.5"/><circle cx="84.12" cy="380.80" r="2.85" fill="none" stroke="#ff0000" stroke-width="1.5"/><circle cx="88.75" cy="380.80" r="2.85" fill="none" stroke="#ff0000" stroke-width="1.5"/><circle cx="93.38" cy="380.80" r="2.85" fill="none" stroke="#ff0000" stroke-width="1.5"/><circle cx="98.00" cy="380.80" r="2.85" fill="none" stroke="#ff0000" stroke-width="1.5"/><circle cx="102.62" cy="380.80" r="2.85" fill="none" stroke="#ff0000" stroke-width="1.5"/><circle cx="107.25" cy="380.80" r="2.85" fill="none" stroke="#ff0000" stroke-width="1.5"/><circle cx="111.88" cy="380.80" r="2.85" fill="none" stroke="#ff0000" stroke-width="1.5"/><circle cx="116.50" cy="254.19" r="2.85" fill="none" stroke="#ff0000" stroke-width="1.5"/><circle cx="121.12" cy="380.80" r="2.85" fill="none" stroke="#ff0000" stroke-width="1.5"/><circle cx="125.75" cy="380.80" r="2.85" fill="none" stroke="#ff0000" stroke-width="1.5"/><circle cx="130.38" cy="380.80" r="2.85" fill="none" stroke="#ff0000" stroke-width="1.5"/><circle cx="135.00" cy="380.80" r="2.85" fill="none" stroke="#ff0000" stroke-width="1.5"/><circle cx="139.62" cy="380.80" r="2.85" fill="none" stroke="#ff0000" stroke-width="1.5"/><circle cx="144.25" cy="380.80" r="2.85" fill="none" stroke="#ff0000" stroke-width="1.5"/><circle cx="148.88" cy="380.80" r="2.85" fill="none" stroke="#ff0000" stroke-width="1.5"/><circle cx="153.50" cy="380.80" r="2.85" fill="none" stroke="#ff0000" stroke-width="1.5"/><circle cx="158.12" cy="380.80" r="2.85" fill="none" stroke="#ff0000" stroke-width="1.5"/><circle cx="162.75" cy="380.80" r="2.85" fill="none" stroke="#ff0000" stroke-width="1.5"/><circle cx="167.38" cy="254.19" r="2.85" fill="none" stroke="#ff0000" stroke-width="1.5"/><circle cx="172.00" cy="380.80" r="2.85" fill="none" stroke="#ff0000" stroke-width="1.5"/><circle cx="176.62" cy="380.80" r="2.85" fill="none" stroke="#ff0000" stroke-width="1.5"/><circle cx="181.25" cy="380.80" r="2.85" fill="none" stroke="#ff0000" stroke-width="1.5"/><circle cx="185.88" cy="380.80" r="2.85" fill="none" stroke="#ff0000" stroke-width="1.5"/><circle cx="190.50" cy="380.80" r="2.85" fill="none" stroke="#ff0000" stroke-width="1.5"/><circle cx="195.12" cy="380.80" r="2.85" fill="none" stroke="#ff0000" stroke-width="1.5"/><circle cx="199.75" cy="380.80" r="2.85" fill="none" stroke="#ff0000" stroke-width="1.5"/><circle cx="204.38" cy="380.80" r="2.85" fill="none" stroke="#ff0000" stroke-width="1.5"/><circle cx="209.00" cy="380.80" r="2.85" fill="none" stroke="#ff0000" stroke-width="1.5"/><circle cx="213.62" cy="380.80" r="2.85" fill="none" stroke="#ff0000" stroke-width="1.5"/><circle cx="218.25" cy="380.80" r="2.85" fill="none" stroke="#ff0000" stroke-width="1.5"/><circle cx="222.88" cy="380.80" r="2.85" fill="none" stroke="#ff0000" stroke-width="1.5"/><circle cx="227.50" cy="380.80" r="2.85" fill="none" stroke="#ff0000" stroke-width="1.5"/><circle cx="232.12" cy="380.80" r="2.85" fill="none" stroke="#ff0000" stroke-width="1.5"/><circle cx="236.75" cy="380.80" r="2.85" fill="none" stroke="#ff0000" stroke-width="1.5"/><circle cx="241.38" cy="380.80" r="2.85" fill="none" stroke="#ff0000" stroke-width="1.5"/><circle cx="246.00" cy="380.80" r="2.85" fill="none" stroke="#ff0000" stroke-width="1.5"/><circle cx="250.62" cy="380.80" r="2.85" fill="none" stroke="#ff0000" stroke-width="1.5"/><circle cx="255.25" cy="380.80" r="2.85" fill="none" stroke="#ff0000" stroke-width="1.5"/><circle cx="259.88" cy="380.80" r="2.85" fill="none" stroke="#ff0000" stroke-width="1.5"/><circle cx="264.50" cy="380.80" r="2.85" fill="none" stroke="#ff0000" stroke-width="1.5"/>
<path d="M47.12 380.80L51.75 380.80L56.38 380.80L61.00 380.80L65.62 380.80L70.25 380.80L74.88 380.80L79.50 380.80L84.12 380.80L88.75 380.80L93.38 380.80L98.00 380.80L102.62 380.80L107.25 380.80L111.88 380.80L116.50 254.19L121.12 380.80L125.75 380.80L130.38 380.80L135.00 380.80L139.62 380.80L144.25 380.80L148.88 380.80L153.50 380.80L158.12 380.80L162.75 380.80L167.38 254.19L172.00 380.80L176.62 380.80L181.25 380.80L185.88 380.80L190.50 380.80L195.12 380.80L199.75 380.80L204.38 380.80L209.00 380.80L213.62 380.80L218.25 380.80L222.88 380.80L227.50 380.80L232.12 380.80L236.75 380.80L241.38 380.80L246.00 380.80L250.62 380.80L255.25 380.80L259.88 380.80L264.50 380.80" fill="none" stroke="#00ffff" stroke-width="1.7" stroke-linejoin="round" stroke-dasharray="2.2 2.2" stroke-dashoffset="2.2"/>
<rect x="45.62" y="379.30" width="3" height="3" fill="#00ffff"/><rect x="50.25" y="379.30" width="3" height="3" fill="#00ffff"/><rect x="54.88" y="379.30" width="3" height="3" fill="#00ffff"/><rect x="59.50" y="379.30" width="3" height="3" fill="#00ffff"/><rect x="64.12" y="379.30" width="3" height="3" fill="#00ffff"/><rect x="68.75" y="379.30" width="3" height="3" fill="#00ffff"/><rect x="73.38" y="379.30" width="3" height="3" fill="#00ffff"/><rect x="78.00" y="379.30" width="3" height="3" fill="#00ffff"/><rect x="82.62" y="379.30" width="3" height="3" fill="#00ffff"/><rect x="87.25" y="379.30" width="3" height="3" fill="#00ffff"/><rect x="91.88" y="379.30" width="3" height="3" fill="#00ffff"/><rect x="96.50" y="379.30" width="3" height="3" fill="#00ffff"/><rect x="101.12" y="379.30" width="3" height="3" fill="#00ffff"/><rect x="105.75" y="379.30" width="3" height="3" fill="#00ffff"/><rect x="110.38" y="379.30" width="3" height="3" fill="#00ffff"/><rect x="115.00" y="252.69" width="3" height="3" fill="#00ffff"/><rect x="119.62" y="379.30" width="3" height="3" fill="#00ffff"/><rect x="124.25" y="379.30" width="3" height="3" fill="#00ffff"/><rect x="128.88" y="379.30" width="3" height="3" fill="#00ffff"/><rect x="133.50" y="379.30" width="3" height="3" fill="#00ffff"/><rect x="138.12" y="379.30" width="3" height="3" fill="#00ffff"/><rect x="142.75" y="379.30" width="3" height="3" fill="#00ffff"/><rect x="147.38" y="379.30" width="3" height="3" fill="#00ffff"/><rect x="152.00" y="379.30" width="3" height="3" fill="#00ffff"/><rect x="156.62" y="379.30" width="3" height="3" fill="#00ffff"/><rect x="161.25" y="379.30" width="3" height="3" fill="#00ffff"/><rect x="165.88" y="252.69" width="3" height="3" fill="#00ffff"/><rect x="170.50" y="379.30" width="3" height="3" fill="#00ffff"/><rect x="175.12" y="379.30" width="3" height="3" fill="#00ffff"/><rect x="179.75" y="379.30" width="3" height="3" fill="#00ffff"/><rect x="184.38" y="379.30" width="3" height="3" fill="#00ffff"/><rect x="189.00" y="379.30" width="3" height="3" fill="#00ffff"/><rect x="193.62" y="379.30" width="3" height="3" fill="#00ffff"/><rect x="198.25" y="379.30" width="3" height="3" fill="#00ffff"/><rect x="202.88" y="379.30" width="3" height="3" fill="#00ffff"/><rect x="207.50" y="379.30" width="3" height="3" fill="#00ffff"/><rect x="212.12" y="379.30" width="3" height="3" fill="#00ffff"/><rect x="216.75" y="379.30" width="3" height="3" fill="#00ffff"/><rect x="221.38" y="379.30" width="3" height="3" fill="#00ffff"/><rect x="226.00" y="379.30" width="3" height="3" fill="#00ffff"/><rect x="230.62" y="379.30" width="3" height="3" fill="#00ffff"/><rect x="235.25" y="379.30" width="3" height="3" fill="#00ffff"/><rect x="239.88" y="379.30" width="3" height="3" fill="#00ffff"/><rect x="244.50" y="379.30" width="3" height="3" fill="#00ffff"/><rect x="249.12" y="379.30" width="3" height="3" fill="#00ffff"/><rect x="253.75" y="379.30" width="3" height="3" fill="#00ffff"/><rect x="258.38" y="379.30" width="3" height="3" fill="#00ffff"/><rect x="263.00" y="379.30" width="3" height="3" fill="#00ffff"/>
<path d="M47.12 380.80L51.75 380.80L56.38 380.80L61.00 380.80L65.62 380.80L70.25 380.80L74.88 380.80L79.50 380.80L84.12 380.80L88.75 380.80L93.38 380.80L98.00 380.80L102.62 380.80L107.25 380.80L111.88 380.80L116.50 380.80L121.12 380.80L125.75 254.19L130.38 380.80L135.00 380.80L139.62 380.80L144.25 380.80L148.88 380.80L153.50 380.80L158.12 380.80L162.75 380.80L167.38 254.19L172.00 380.80L176.62 380.80L181.25 380.80L185.88 380.80L190.50 380.80L195.12 380.80L199.75 380.80L204.38 380.80L209.00 380.80L213.62 380.80L218.25 380.80L222.88 380.80L227.50 380.80L232.12 380.80L236.75 380.80L241.38 380.80L246.00 380.80L250.62 380.80L255.25 380.80L259.88 380.80L264.50 380.80" fill="none" stroke="#0000ff" stroke-width="1.6" stroke-linejoin="round" stroke-dasharray="7.5 4.7" stroke-dashoffset="0"/>
<path d="M47.12 377.30L50.12 382.55L44.12 382.55Z" fill="none" stroke="#0000ff" stroke-width="1.55" stroke-linejoin="miter"/><path d="M51.75 377.30L54.75 382.55L48.75 382.55Z" fill="none" stroke="#0000ff" stroke-width="1.55" stroke-linejoin="miter"/><path d="M56.38 377.30L59.38 382.55L53.38 382.55Z" fill="none" stroke="#0000ff" stroke-width="1.55" stroke-linejoin="miter"/><path d="M61.00 377.30L64.00 382.55L58.00 382.55Z" fill="none" stroke="#0000ff" stroke-width="1.55" stroke-linejoin="miter"/><path d="M65.62 377.30L68.62 382.55L62.62 382.55Z" fill="none" stroke="#0000ff" stroke-width="1.55" stroke-linejoin="miter"/><path d="M70.25 377.30L73.25 382.55L67.25 382.55Z" fill="none" stroke="#0000ff" stroke-width="1.55" stroke-linejoin="miter"/><path d="M74.88 377.30L77.88 382.55L71.88 382.55Z" fill="none" stroke="#0000ff" stroke-width="1.55" stroke-linejoin="miter"/><path d="M79.50 377.30L82.50 382.55L76.50 382.55Z" fill="none" stroke="#0000ff" stroke-width="1.55" stroke-linejoin="miter"/><path d="M84.12 377.30L87.12 382.55L81.12 382.55Z" fill="none" stroke="#0000ff" stroke-width="1.55" stroke-linejoin="miter"/><path d="M88.75 377.30L91.75 382.55L85.75 382.55Z" fill="none" stroke="#0000ff" stroke-width="1.55" stroke-linejoin="miter"/><path d="M93.38 377.30L96.38 382.55L90.38 382.55Z" fill="none" stroke="#0000ff" stroke-width="1.55" stroke-linejoin="miter"/><path d="M98.00 377.30L101.00 382.55L95.00 382.55Z" fill="none" stroke="#0000ff" stroke-width="1.55" stroke-linejoin="miter"/><path d="M102.62 377.30L105.62 382.55L99.62 382.55Z" fill="none" stroke="#0000ff" stroke-width="1.55" stroke-linejoin="miter"/><path d="M107.25 377.30L110.25 382.55L104.25 382.55Z" fill="none" stroke="#0000ff" stroke-width="1.55" stroke-linejoin="miter"/><path d="M111.88 377.30L114.88 382.55L108.88 382.55Z" fill="none" stroke="#0000ff" stroke-width="1.55" stroke-linejoin="miter"/><path d="M116.50 377.30L119.50 382.55L113.50 382.55Z" fill="none" stroke="#0000ff" stroke-width="1.55" stroke-linejoin="miter"/><path d="M121.12 377.30L124.12 382.55L118.12 382.55Z" fill="none" stroke="#0000ff" stroke-width="1.55" stroke-linejoin="miter"/><path d="M125.75 250.69L128.75 255.94L122.75 255.94Z" fill="none" stroke="#0000ff" stroke-width="1.55" stroke-linejoin="miter"/><path d="M130.38 377.30L133.38 382.55L127.38 382.55Z" fill="none" stroke="#0000ff" stroke-width="1.55" stroke-linejoin="miter"/><path d="M135.00 377.30L138.00 382.55L132.00 382.55Z" fill="none" stroke="#0000ff" stroke-width="1.55" stroke-linejoin="miter"/><path d="M139.62 377.30L142.62 382.55L136.62 382.55Z" fill="none" stroke="#0000ff" stroke-width="1.55" stroke-linejoin="miter"/><path d="M144.25 377.30L147.25 382.55L141.25 382.55Z" fill="none" stroke="#0000ff" stroke-width="1.55" stroke-linejoin="miter"/><path d="M148.88 377.30L151.88 382.55L145.88 382.55Z" fill="none" stroke="#0000ff" stroke-width="1.55" stroke-linejoin="miter"/><path d="M153.50 377.30L156.50 382.55L150.50 382.55Z" fill="none" stroke="#0000ff" stroke-width="1.55" stroke-linejoin="miter"/><path d="M158.12 377.30L161.12 382.55L155.12 382.55Z" fill="none" stroke="#0000ff" stroke-width="1.55" stroke-linejoin="miter"/><path d="M162.75 377.30L165.75 382.55L159.75 382.55Z" fill="none" stroke="#0000ff" stroke-width="1.55" stroke-linejoin="miter"/><path d="M167.38 250.69L170.38 255.94L164.38 255.94Z" fill="none" stroke="#0000ff" stroke-width="1.55" stroke-linejoin="miter"/><path d="M172.00 377.30L175.00 382.55L169.00 382.55Z" fill="none" stroke="#0000ff" stroke-width="1.55" stroke-linejoin="miter"/><path d="M176.62 377.30L179.62 382.55L173.62 382.55Z" fill="none" stroke="#0000ff" stroke-width="1.55" stroke-linejoin="miter"/><path d="M181.25 377.30L184.25 382.55L178.25 382.55Z" fill="none" stroke="#0000ff" stroke-width="1.55" stroke-linejoin="miter"/><path d="M185.88 377.30L188.88 382.55L182.88 382.55Z" fill="none" stroke="#0000ff" stroke-width="1.55" stroke-linejoin="miter"/><path d="M190.50 377.30L193.50 382.55L187.50 382.55Z" fill="none" stroke="#0000ff" stroke-width="1.55" stroke-linejoin="miter"/><path d="M195.12 377.30L198.12 382.55L192.12 382.55Z" fill="none" stroke="#0000ff" stroke-width="1.55" stroke-linejoin="miter"/><path d="M199.75 377.30L202.75 382.55L196.75 382.55Z" fill="none" stroke="#0000ff" stroke-width="1.55" stroke-linejoin="miter"/><path d="M204.38 377.30L207.38 382.55L201.38 382.55Z" fill="none" stroke="#0000ff" stroke-width="1.55" stroke-linejoin="miter"/><path d="M209.00 377.30L212.00 382.55L206.00 382.55Z" fill="none" stroke="#0000ff" stroke-width="1.55" stroke-linejoin="miter"/><path d="M213.62 377.30L216.62 382.55L210.62 382.55Z" fill="none" stroke="#0000ff" stroke-width="1.55" stroke-linejoin="miter"/><path d="M218.25 377.30L221.25 382.55L215.25 382.55Z" fill="none" stroke="#0000ff" stroke-width="1.55" stroke-linejoin="miter"/><path d="M222.88 377.30L225.88 382.55L219.88 382.55Z" fill="none" stroke="#0000ff" stroke-width="1.55" stroke-linejoin="miter"/><path d="M227.50 377.30L230.50 382.55L224.50 382.55Z" fill="none" stroke="#0000ff" stroke-width="1.55" stroke-linejoin="miter"/><path d="M232.12 377.30L235.12 382.55L229.12 382.55Z" fill="none" stroke="#0000ff" stroke-width="1.55" stroke-linejoin="miter"/><path d="M236.75 377.30L239.75 382.55L233.75 382.55Z" fill="none" stroke="#0000ff" stroke-width="1.55" stroke-linejoin="miter"/><path d="M241.38 377.30L244.38 382.55L238.38 382.55Z" fill="none" stroke="#0000ff" stroke-width="1.55" stroke-linejoin="miter"/><path d="M246.00 377.30L249.00 382.55L243.00 382.55Z" fill="none" stroke="#0000ff" stroke-width="1.55" stroke-linejoin="miter"/><path d="M250.62 377.30L253.62 382.55L247.62 382.55Z" fill="none" stroke="#0000ff" stroke-width="1.55" stroke-linejoin="miter"/><path d="M255.25 377.30L258.25 382.55L252.25 382.55Z" fill="none" stroke="#0000ff" stroke-width="1.55" stroke-linejoin="miter"/><path d="M259.88 377.30L262.88 382.55L256.88 382.55Z" fill="none" stroke="#0000ff" stroke-width="1.55" stroke-linejoin="miter"/><path d="M264.50 377.30L267.50 382.55L261.50 382.55Z" fill="none" stroke="#0000ff" stroke-width="1.55" stroke-linejoin="miter"/>
</g>
<text x="42.50" y="397.60" font-size="11.1" text-anchor="middle">0</text>
<text x="88.75" y="397.60" font-size="11.1" text-anchor="middle">10</text>
<text x="135.00" y="397.60" font-size="11.1" text-anchor="middle">20</text>
<text x="181.25" y="397.60" font-size="11.1" text-anchor="middle">30</text>
<text x="227.50" y="397.60" font-size="11.1" text-anchor="middle">40</text>
<text x="37.70" y="386.10" font-size="11.1" text-anchor="end">0</text>
<text x="37.70" y="356.24" font-size="11.1" text-anchor="end">5</text>
<text x="37.70" y="326.38" font-size="11.1" text-anchor="end">10</text>
<text x="37.70" y="296.52" font-size="11.1" text-anchor="end">15</text>
<text x="37.70" y="266.66" font-size="11.1" text-anchor="end">20</text>
<text x="37.70" y="236.80" font-size="11.1" text-anchor="end">25</text>
<text x="153.00" y="226.30" font-size="13" text-anchor="middle">(c)</text>
<text transform="translate(17.50 306.65) rotate(-90)" font-size="13.6" text-anchor="middle" textLength="44.2" lengthAdjust="spacingAndGlyphs">ME(m)</text>
<text x="153.50" y="416.2" font-size="14.6" text-anchor="middle">Time step k</text>
</g>
<g id="ax-d">
<path d="M348.75 231.5V380.8M395.00 231.5V380.8M441.25 231.5V380.8M487.50 231.5V380.8M302.5 350.94H524.5M302.5 321.08H524.5M302.5 291.22H524.5M302.5 261.36H524.5" stroke="#e2e2e2" stroke-width="1" fill="none"/>
<path d="M302.50 380.8v-2.3M302.50 231.5v2.3M348.75 380.8v-2.3M348.75 231.5v2.3M395.00 380.8v-2.3M395.00 231.5v2.3M441.25 380.8v-2.3M441.25 231.5v2.3M487.50 380.8v-2.3M487.50 231.5v2.3M302.5 380.80h2.3M524.5 380.80h-2.3M302.5 350.94h2.3M524.5 350.94h-2.3M302.5 321.08h2.3M524.5 321.08h-2.3M302.5 291.22h2.3M524.5 291.22h-2.3M302.5 261.36h2.3M524.5 261.36h-2.3M302.5 231.50h2.3M524.5 231.50h-2.3" stroke="#505050" stroke-width="1" fill="none"/>
<rect x="302.5" y="231.5" width="222.0" height="149.3" fill="none" stroke="#505050" stroke-width="1"/>
<clipPath id="clip-d"><rect x="297.5" y="226.5" width="232.0" height="159.3"/></clipPath>
<g clip-path="url(#clip-d)">
<path d="M307.12 380.80L311.75 380.80L316.38 380.80L321.00 380.80L325.62 380.80L330.25 380.80L334.88 380.80L339.50 380.80L344.12 380.80L348.75 380.80L353.38 380.80L358.00 380.80L362.62 380.80L367.25 380.80L371.88 380.80L376.50 254.19L381.12 380.80L385.75 380.80L390.38 380.80L395.00 380.80L399.62 254.19L404.25 380.80L408.88 380.80L413.50 254.19L418.12 380.80L422.75 380.80L427.38 380.80L432.00 380.80L436.62 380.80L441.25 380.80L445.88 380.80L450.50 380.80L455.12 380.80L459.75 380.80L464.38 380.80L469.00 380.80L473.62 380.80L478.25 380.80L482.88 380.80L487.50 380.80L492.12 380.80L496.75 380.80L501.38 380.80L506.00 380.80L510.62 380.80L515.25 380.80L519.88 380.80L524.50 380.80" fill="none" stroke="#00ff00" stroke-width="1.6" stroke-linejoin="round"/>
<path d="M307.12 377.30L310.02 380.80L307.12 384.30L304.23 380.80Z" fill="#00ff00"/><path d="M311.75 377.30L314.65 380.80L311.75 384.30L308.85 380.80Z" fill="#00ff00"/><path d="M316.38 377.30L319.27 380.80L316.38 384.30L313.48 380.80Z" fill="#00ff00"/><path d="M321.00 377.30L323.90 380.80L321.00 384.30L318.10 380.80Z" fill="#00ff00"/><path d="M325.62 377.30L328.52 380.80L325.62 384.30L322.73 380.80Z" fill="#00ff00"/><path d="M330.25 377.30L333.15 380.80L330.25 384.30L327.35 380.80Z" fill="#00ff00"/><path d="M334.88 377.30L337.77 380.80L334.88 384.30L331.98 380.80Z" fill="#00ff00"/><path d="M339.50 377.30L342.40 380.80L339.50 384.30L336.60 380.80Z" fill="#00ff00"/><path d="M344.12 377.30L347.02 380.80L344.12 384.30L341.23 380.80Z" fill="#00ff00"/><path d="M348.75 377.30L351.65 380.80L348.75 384.30L345.85 380.80Z" fill="#00ff00"/><path d="M353.38 377.30L356.27 380.80L353.38 384.30L350.48 380.80Z" fill="#00ff00"/><path d="M358.00 377.30L360.90 380.80L358.00 384.30L355.10 380.80Z" fill="#00ff00"/><path d="M362.62 377.30L365.52 380.80L362.62 384.30L359.73 380.80Z" fill="#00ff00"/><path d="M367.25 377.30L370.15 380.80L367.25 384.30L364.35 380.80Z" fill="#00ff00"/><path d="M371.88 377.30L374.77 380.80L371.88 384.30L368.98 380.80Z" fill="#00ff00"/><path d="M376.50 250.69L379.40 254.19L376.50 257.69L373.60 254.19Z" fill="#00ff00"/><path d="M381.12 377.30L384.02 380.80L381.12 384.30L378.23 380.80Z" fill="#00ff00"/><path d="M385.75 377.30L388.65 380.80L385.75 384.30L382.85 380.80Z" fill="#00ff00"/><path d="M390.38 377.30L393.27 380.80L390.38 384.30L387.48 380.80Z" fill="#00ff00"/><path d="M395.00 377.30L397.90 380.80L395.00 384.30L392.10 380.80Z" fill="#00ff00"/><path d="M399.62 250.69L402.52 254.19L399.62 257.69L396.73 254.19Z" fill="#00ff00"/><path d="M404.25 377.30L407.15 380.80L404.25 384.30L401.35 380.80Z" fill="#00ff00"/><path d="M408.88 377.30L411.77 380.80L408.88 384.30L405.98 380.80Z" fill="#00ff00"/><path d="M413.50 250.69L416.40 254.19L413.50 257.69L410.60 254.19Z" fill="#00ff00"/><path d="M418.12 377.30L421.02 380.80L418.12 384.30L415.23 380.80Z" fill="#00ff00"/><path d="M422.75 377.30L425.65 380.80L422.75 384.30L419.85 380.80Z" fill="#00ff00"/><path d="M427.38 377.30L430.27 380.80L427.38 384.30L424.48 380.80Z" fill="#00ff00"/><path d="M432.00 377.30L434.90 380.80L432.00 384.30L429.10 380.80Z" fill="#00ff00"/><path d="M436.62 377.30L439.52 380.80L436.62 384.30L433.73 380.80Z" fill="#00ff00"/><path d="M441.25 377.30L444.15 380.80L441.25 384.30L438.35 380.80Z" fill="#00ff00"/><path d="M445.88 377.30L448.77 380.80L445.88 384.30L442.98 380.80Z" fill="#00ff00"/><path d="M450.50 377.30L453.40 380.80L450.50 384.30L447.60 380.80Z" fill="#00ff00"/><path d="M455.12 377.30L458.02 380.80L455.12 384.30L452.23 380.80Z" fill="#00ff00"/><path d="M459.75 377.30L462.65 380.80L459.75 384.30L456.85 380.80Z" fill="#00ff00"/><path d="M464.38 377.30L467.27 380.80L464.38 384.30L461.48 380.80Z" fill="#00ff00"/><path d="M469.00 377.30L471.90 380.80L469.00 384.30L466.10 380.80Z" fill="#00ff00"/><path d="M473.62 377.30L476.52 380.80L473.62 384.30L470.73 380.80Z" fill="#00ff00"/><path d="M478.25 377.30L481.15 380.80L478.25 384.30L475.35 380.80Z" fill="#00ff00"/><path d="M482.88 377.30L485.77 380.80L482.88 384.30L479.98 380.80Z" fill="#00ff00"/><path d="M487.50 377.30L490.40 380.80L487.50 384.30L484.60 380.80Z" fill="#00ff00"/><path d="M492.12 377.30L495.02 380.80L492.12 384.30L489.23 380.80Z" fill="#00ff00"/><path d="M496.75 377.30L499.65 380.80L496.75 384.30L493.85 380.80Z" fill="#00ff00"/><path d="M501.38 377.30L504.27 380.80L501.38 384.30L498.48 380.80Z" fill="#00ff00"/><path d="M506.00 377.30L508.90 380.80L506.00 384.30L503.10 380.80Z" fill="#00ff00"/><path d="M510.62 377.30L513.52 380.80L510.62 384.30L507.73 380.80Z" fill="#00ff00"/><path d="M515.25 377.30L518.15 380.80L515.25 384.30L512.35 380.80Z" fill="#00ff00"/><path d="M519.88 377.30L522.77 380.80L519.88 384.30L516.98 380.80Z" fill="#00ff00"/><path d="M524.50 377.30L527.40 380.80L524.50 384.30L521.60 380.80Z" fill="#00ff00"/>
<path d="M307.12 380.80L311.75 380.80L316.38 380.80L321.00 380.80L325.62 380.80L330.25 380.80L334.88 380.80L339.50 380.80L344.12 380.80L348.75 380.80L353.38 380.80L358.00 380.80L362.62 380.80L367.25 380.80L371.88 380.80L376.50 380.80L381.12 380.80L385.75 380.80L390.38 380.80L395.00 380.80L399.62 380.80L404.25 380.80L408.88 380.80L413.50 380.80L418.12 380.80L422.75 380.80L427.38 254.19L432.00 380.80L436.62 380.80L441.25 380.80L445.88 380.80L450.50 380.80L455.12 380.80L459.75 380.80L464.38 380.80L469.00 380.80L473.62 380.80L478.25 380.80L482.88 380.80L487.50 380.80L492.12 380.80L496.75 380.80L501.38 380.80L506.00 380.80L510.62 380.80L515.25 380.80L519.88 380.80L524.50 380.80" fill="none" stroke="#ff0000" stroke-width="1.8" stroke-linejoin="round" stroke-dasharray="2.2 2.2" stroke-dashoffset="0"/>
<circle cx="307.12" cy="380.80" r="2.85" fill="none" stroke="#ff0000" stroke-width="1.5"/><circle cx="311.75" cy="380.80" r="2.85" fill="none" stroke="#ff0000" stroke-width="1.5"/><circle cx="316.38" cy="380.80" r="2.85" fill="none" stroke="#ff0000" stroke-width="1.5"/><circle cx="321.00" cy="380.80" r="2.85" fill="none" stroke="#ff0000" stroke-width="1.5"/><circle cx="325.62" cy="380.80" r="2.85" fill="none" stroke="#ff0000" stroke-width="1.5"/><circle cx="330.25" cy="380.80" r="2.85" fill="none" stroke="#ff0000" stroke-width="1.5"/><circle cx="334.88" cy="380.80" r="2.85" fill="none" stroke="#ff0000" stroke-width="1.5"/><circle cx="339.50" cy="380.80" r="2.85" fill="none" stroke="#ff0000" stroke-width="1.5"/><circle cx="344.12" cy="380.80" r="2.85" fill="none" stroke="#ff0000" stroke-width="1.5"/><circle cx="348.75" cy="380.80" r="2.85" fill="none" stroke="#ff0000" stroke-width="1.5"/><circle cx="353.38" cy="380.80" r="2.85" fill="none" stroke="#ff0000" stroke-width="1.5"/><circle cx="358.00" cy="380.80" r="2.85" fill="none" stroke="#ff0000" stroke-width="1.5"/><circle cx="362.62" cy="380.80" r="2.85" fill="none" stroke="#ff0000" stroke-width="1.5"/><circle cx="367.25" cy="380.80" r="2.85" fill="none" stroke="#ff0000" stroke-width="1.5"/><circle cx="371.88" cy="380.80" r="2.85" fill="none" stroke="#ff0000" stroke-width="1.5"/><circle cx="376.50" cy="380.80" r="2.85" fill="none" stroke="#ff0000" stroke-width="1.5"/><circle cx="381.12" cy="380.80" r="2.85" fill="none" stroke="#ff0000" stroke-width="1.5"/><circle cx="385.75" cy="380.80" r="2.85" fill="none" stroke="#ff0000" stroke-width="1.5"/><circle cx="390.38" cy="380.80" r="2.85" fill="none" stroke="#ff0000" stroke-width="1.5"/><circle cx="395.00" cy="380.80" r="2.85" fill="none" stroke="#ff0000" stroke-width="1.5"/><circle cx="399.62" cy="380.80" r="2.85" fill="none" stroke="#ff0000" stroke-width="1.5"/><circle cx="404.25" cy="380.80" r="2.85" fill="none" stroke="#ff0000" stroke-width="1.5"/><circle cx="408.88" cy="380.80" r="2.85" fill="none" stroke="#ff0000" stroke-width="1.5"/><circle cx="413.50" cy="380.80" r="2.85" fill="none" stroke="#ff0000" stroke-width="1.5"/><circle cx="418.12" cy="380.80" r="2.85" fill="none" stroke="#ff0000" stroke-width="1.5"/><circle cx="422.75" cy="380.80" r="2.85" fill="none" stroke="#ff0000" stroke-width="1.5"/><circle cx="427.38" cy="254.19" r="2.85" fill="none" stroke="#ff0000" stroke-width="1.5"/><circle cx="432.00" cy="380.80" r="2.85" fill="none" stroke="#ff0000" stroke-width="1.5"/><circle cx="436.62" cy="380.80" r="2.85" fill="none" stroke="#ff0000" stroke-width="1.5"/><circle cx="441.25" cy="380.80" r="2.85" fill="none" stroke="#ff0000" stroke-width="1.5"/><circle cx="445.88" cy="380.80" r="2.85" fill="none" stroke="#ff0000" stroke-width="1.5"/><circle cx="450.50" cy="380.80" r="2.85" fill="none" stroke="#ff0000" stroke-width="1.5"/><circle cx="455.12" cy="380.80" r="2.85" fill="none" stroke="#ff0000" stroke-width="1.5"/><circle cx="459.75" cy="380.80" r="2.85" fill="none" stroke="#ff0000" stroke-width="1.5"/><circle cx="464.38" cy="380.80" r="2.85" fill="none" stroke="#ff0000" stroke-width="1.5"/><circle cx="469.00" cy="380.80" r="2.85" fill="none" stroke="#ff0000" stroke-width="1.5"/><circle cx="473.62" cy="380.80" r="2.85" fill="none" stroke="#ff0000" stroke-width="1.5"/><circle cx="478.25" cy="380.80" r="2.85" fill="none" stroke="#ff0000" stroke-width="1.5"/><circle cx="482.88" cy="380.80" r="2.85" fill="none" stroke="#ff0000" stroke-width="1.5"/><circle cx="487.50" cy="380.80" r="2.85" fill="none" stroke="#ff0000" stroke-width="1.5"/><circle cx="492.12" cy="380.80" r="2.85" fill="none" stroke="#ff0000" stroke-width="1.5"/><circle cx="496.75" cy="380.80" r="2.85" fill="none" stroke="#ff0000" stroke-width="1.5"/><circle cx="501.38" cy="380.80" r="2.85" fill="none" stroke="#ff0000" stroke-width="1.5"/><circle cx="506.00" cy="380.80" r="2.85" fill="none" stroke="#ff0000" stroke-width="1.5"/><circle cx="510.62" cy="380.80" r="2.85" fill="none" stroke="#ff0000" stroke-width="1.5"/><circle cx="515.25" cy="380.80" r="2.85" fill="none" stroke="#ff0000" stroke-width="1.5"/><circle cx="519.88" cy="380.80" r="2.85" fill="none" stroke="#ff0000" stroke-width="1.5"/><circle cx="524.50" cy="380.80" r="2.85" fill="none" stroke="#ff0000" stroke-width="1.5"/>
<path d="M307.12 380.80L311.75 380.80L316.38 380.80L321.00 380.80L325.62 380.80L330.25 380.80L334.88 380.80L339.50 380.80L344.12 380.80L348.75 380.80L353.38 380.80L358.00 380.80L362.62 380.80L367.25 380.80L371.88 380.80L376.50 380.80L381.12 380.80L385.75 380.80L390.38 380.80L395.00 380.80L399.62 380.80L404.25 380.80L408.88 380.80L413.50 380.80L418.12 380.80L422.75 380.80L427.38 254.19L432.00 380.80L436.62 380.80L441.25 380.80L445.88 380.80L450.50 380.80L455.12 380.80L459.75 380.80L464.38 380.80L469.00 380.80L473.62 380.80L478.25 380.80L482.88 380.80L487.50 380.80L492.12 380.80L496.75 380.80L501.38 380.80L506.00 380.80L510.62 380.80L515.25 380.80L519.88 380.80L524.50 380.80" fill="none" stroke="#00ffff" stroke-width="1.7" stroke-linejoin="round" stroke-dasharray="2.2 2.2" stroke-dashoffset="2.2"/>
<rect x="305.62" y="379.30" width="3" height="3" fill="#00ffff"/><rect x="310.25" y="379.30" width="3" height="3" fill="#00ffff"/><rect x="314.88" y="379.30" width="3" height="3" fill="#00ffff"/><rect x="319.50" y="379.30" width="3" height="3" fill="#00ffff"/><rect x="324.12" y="379.30" width="3" height="3" fill="#00ffff"/><rect x="328.75" y="379.30" width="3" height="3" fill="#00ffff"/><rect x="333.38" y="379.30" width="3" height="3" fill="#00ffff"/><rect x="338.00" y="379.30" width="3" height="3" fill="#00ffff"/><rect x="342.62" y="379.30" width="3" height="3" fill="#00ffff"/><rect x="347.25" y="379.30" width="3" height="3" fill="#00ffff"/><rect x="351.88" y="379.30" width="3" height="3" fill="#00ffff"/><rect x="356.50" y="379.30" width="3" height="3" fill="#00ffff"/><rect x="361.12" y="379.30" width="3" height="3" fill="#00ffff"/><rect x="365.75" y="379.30" width="3" height="3" fill="#00ffff"/><rect x="370.38" y="379.30" width="3" height="3" fill="#00ffff"/><rect x="375.00" y="379.30" width="3" height="3" fill="#00ffff"/><rect x="379.62" y="379.30" width="3" height="3" fill="#00ffff"/><rect x="384.25" y="379.30" width="3" height="3" fill="#00ffff"/><rect x="388.88" y="379.30" width="3" height="3" fill="#00ffff"/><rect x="393.50" y="379.30" width="3" height="3" fill="#00ffff"/><rect x="398.12" y="379.30" width="3" height="3" fill="#00ffff"/><rect x="402.75" y="379.30" width="3" height="3" fill="#00ffff"/><rect x="407.38" y="379.30" width="3" height="3" fill="#00ffff"/><rect x="412.00" y="379.30" width="3" height="3" fill="#00ffff"/><rect x="416.62" y="379.30" width="3" height="3" fill="#00ffff"/><rect x="421.25" y="379.30" width="3" height="3" fill="#00ffff"/><rect x="425.88" y="252.69" width="3" height="3" fill="#00ffff"/><rect x="430.50" y="379.30" width="3" height="3" fill="#00ffff"/><rect x="435.12" y="379.30" width="3" height="3" fill="#00ffff"/><rect x="439.75" y="379.30" width="3" height="3" fill="#00ffff"/><rect x="444.38" y="379.30" width="3" height="3" fill="#00ffff"/><rect x="449.00" y="379.30" width="3" height="3" fill="#00ffff"/><rect x="453.62" y="379.30" width="3" height="3" fill="#00ffff"/><rect x="458.25" y="379.30" width="3" height="3" fill="#00ffff"/><rect x="462.88" y="379.30" width="3" height="3" fill="#00ffff"/><rect x="467.50" y="379.30" width="3" height="3" fill="#00ffff"/><rect x="472.12" y="379.30" width="3" height="3" fill="#00ffff"/><rect x="476.75" y="379.30" width="3" height="3" fill="#00ffff"/><rect x="481.38" y="379.30" width="3" height="3" fill="#00ffff"/><rect x="486.00" y="379.30" width="3" height="3" fill="#00ffff"/><rect x="490.62" y="379.30" width="3" height="3" fill="#00ffff"/><rect x="495.25" y="379.30" width="3" height="3" fill="#00ffff"/><rect x="499.88" y="379.30" width="3" height="3" fill="#00ffff"/><rect x="504.50" y="379.30" width="3" height="3" fill="#00ffff"/><rect x="509.12" y="379.30" width="3" height="3" fill="#00ffff"/><rect x="513.75" y="379.30" width="3" height="3" fill="#00ffff"/><rect x="518.38" y="379.30" width="3" height="3" fill="#00ffff"/><rect x="523.00" y="379.30" width="3" height="3" fill="#00ffff"/>
<path d="M307.12 380.80L311.75 380.80L316.38 380.80L321.00 380.80L325.62 380.80L330.25 380.80L334.88 380.80L339.50 380.80L344.12 380.80L348.75 380.80L353.38 380.80L358.00 380.80L362.62 380.80L367.25 380.80L371.88 380.80L376.50 380.80L381.12 380.80L385.75 254.19L390.38 380.80L395.00 380.80L399.62 380.80L404.25 380.80L408.88 380.80L413.50 380.80L418.12 380.80L422.75 380.80L427.38 254.19L432.00 380.80L436.62 380.80L441.25 380.80L445.88 380.80L450.50 380.80L455.12 380.80L459.75 380.80L464.38 380.80L469.00 380.80L473.62 380.80L478.25 380.80L482.88 380.80L487.50 380.80L492.12 380.80L496.75 380.80L501.38 380.80L506.00 380.80L510.62 380.80L515.25 380.80L519.88 380.80L524.50 380.80" fill="none" stroke="#0000ff" stroke-width="1.6" stroke-linejoin="round" stroke-dasharray="7.5 4.7" stroke-dashoffset="0"/>
<path d="M307.12 377.30L310.12 382.55L304.12 382.55Z" fill="none" stroke="#0000ff" stroke-width="1.55" stroke-linejoin="miter"/><path d="M311.75 377.30L314.75 382.55L308.75 382.55Z" fill="none" stroke="#0000ff" stroke-width="1.55" stroke-linejoin="miter"/><path d="M316.38 377.30L319.38 382.55L313.38 382.55Z" fill="none" stroke="#0000ff" stroke-width="1.55" stroke-linejoin="miter"/><path d="M321.00 377.30L324.00 382.55L318.00 382.55Z" fill="none" stroke="#0000ff" stroke-width="1.55" stroke-linejoin="miter"/><path d="M325.62 377.30L328.62 382.55L322.62 382.55Z" fill="none" stroke="#0000ff" stroke-width="1.55" stroke-linejoin="miter"/><path d="M330.25 377.30L333.25 382.55L327.25 382.55Z" fill="none" stroke="#0000ff" stroke-width="1.55" stroke-linejoin="miter"/><path d="M334.88 377.30L337.88 382.55L331.88 382.55Z" fill="none" stroke="#0000ff" stroke-width="1.55" stroke-linejoin="miter"/><path d="M339.50 377.30L342.50 382.55L336.50 382.55Z" fill="none" stroke="#0000ff" stroke-width="1.55" stroke-linejoin="miter"/><path d="M344.12 377.30L347.12 382.55L341.12 382.55Z" fill="none" stroke="#0000ff" stroke-width="1.55" stroke-linejoin="miter"/><path d="M348.75 377.30L351.75 382.55L345.75 382.55Z" fill="none" stroke="#0000ff" stroke-width="1.55" stroke-linejoin="miter"/><path d="M353.38 377.30L356.38 382.55L350.38 382.55Z" fill="none" stroke="#0000ff" stroke-width="1.55" stroke-linejoin="miter"/><path d="M358.00 377.30L361.00 382.55L355.00 382.55Z" fill="none" stroke="#0000ff" stroke-width="1.55" stroke-linejoin="miter"/><path d="M362.62 377.30L365.62 382.55L359.62 382.55Z" fill="none" stroke="#0000ff" stroke-width="1.55" stroke-linejoin="miter"/><path d="M367.25 377.30L370.25 382.55L364.25 382.55Z" fill="none" stroke="#0000ff" stroke-width="1.55" stroke-linejoin="miter"/><path d="M371.88 377.30L374.88 382.55L368.88 382.55Z" fill="none" stroke="#0000ff" stroke-width="1.55" stroke-linejoin="miter"/><path d="M376.50 377.30L379.50 382.55L373.50 382.55Z" fill="none" stroke="#0000ff" stroke-width="1.55" stroke-linejoin="miter"/><path d="M381.12 377.30L384.12 382.55L378.12 382.55Z" fill="none" stroke="#0000ff" stroke-width="1.55" stroke-linejoin="miter"/><path d="M385.75 250.69L388.75 255.94L382.75 255.94Z" fill="none" stroke="#0000ff" stroke-width="1.55" stroke-linejoin="miter"/><path d="M390.38 377.30L393.38 382.55L387.38 382.55Z" fill="none" stroke="#0000ff" stroke-width="1.55" stroke-linejoin="miter"/><path d="M395.00 377.30L398.00 382.55L392.00 382.55Z" fill="none" stroke="#0000ff" stroke-width="1.55" stroke-linejoin="miter"/><path d="M399.62 377.30L402.62 382.55L396.62 382.55Z" fill="none" stroke="#0000ff" stroke-width="1.55" stroke-linejoin="miter"/><path d="M404.25 377.30L407.25 382.55L401.25 382.55Z" fill="none" stroke="#0000ff" stroke-width="1.55" stroke-linejoin="miter"/><path d="M408.88 377.30L411.88 382.55L405.88 382.55Z" fill="none" stroke="#0000ff" stroke-width="1.55" stroke-linejoin="miter"/><path d="M413.50 377.30L416.50 382.55L410.50 382.55Z" fill="none" stroke="#0000ff" stroke-width="1.55" stroke-linejoin="miter"/><path d="M418.12 377.30L421.12 382.55L415.12 382.55Z" fill="none" stroke="#0000ff" stroke-width="1.55" stroke-linejoin="miter"/><path d="M422.75 377.30L425.75 382.55L419.75 382.55Z" fill="none" stroke="#0000ff" stroke-width="1.55" stroke-linejoin="miter"/><path d="M427.38 250.69L430.38 255.94L424.38 255.94Z" fill="none" stroke="#0000ff" stroke-width="1.55" stroke-linejoin="miter"/><path d="M432.00 377.30L435.00 382.55L429.00 382.55Z" fill="none" stroke="#0000ff" stroke-width="1.55" stroke-linejoin="miter"/><path d="M436.62 377.30L439.62 382.55L433.62 382.55Z" fill="none" stroke="#0000ff" stroke-width="1.55" stroke-linejoin="miter"/><path d="M441.25 377.30L444.25 382.55L438.25 382.55Z" fill="none" stroke="#0000ff" stroke-width="1.55" stroke-linejoin="miter"/><path d="M445.88 377.30L448.88 382.55L442.88 382.55Z" fill="none" stroke="#0000ff" stroke-width="1.55" stroke-linejoin="miter"/><path d="M450.50 377.30L453.50 382.55L447.50 382.55Z" fill="none" stroke="#0000ff" stroke-width="1.55" stroke-linejoin="miter"/><path d="M455.12 377.30L458.12 382.55L452.12 382.55Z" fill="none" stroke="#0000ff" stroke-width="1.55" stroke-linejoin="miter"/><path d="M459.75 377.30L462.75 382.55L456.75 382.55Z" fill="none" stroke="#0000ff" stroke-width="1.55" stroke-linejoin="miter"/><path d="M464.38 377.30L467.38 382.55L461.38 382.55Z" fill="none" stroke="#0000ff" stroke-width="1.55" stroke-linejoin="miter"/><path d="M469.00 377.30L472.00 382.55L466.00 382.55Z" fill="none" stroke="#0000ff" stroke-width="1.55" stroke-linejoin="miter"/><path d="M473.62 377.30L476.62 382.55L470.62 382.55Z" fill="none" stroke="#0000ff" stroke-width="1.55" stroke-linejoin="miter"/><path d="M478.25 377.30L481.25 382.55L475.25 382.55Z" fill="none" stroke="#0000ff" stroke-width="1.55" stroke-linejoin="miter"/><path d="M482.88 377.30L485.88 382.55L479.88 382.55Z" fill="none" stroke="#0000ff" stroke-width="1.55" stroke-linejoin="miter"/><path d="M487.50 377.30L490.50 382.55L484.50 382.55Z" fill="none" stroke="#0000ff" stroke-width="1.55" stroke-linejoin="miter"/><path d="M492.12 377.30L495.12 382.55L489.12 382.55Z" fill="none" stroke="#0000ff" stroke-width="1.55" stroke-linejoin="miter"/><path d="M496.75 377.30L499.75 382.55L493.75 382.55Z" fill="none" stroke="#0000ff" stroke-width="1.55" stroke-linejoin="miter"/><path d="M501.38 377.30L504.38 382.55L498.38 382.55Z" fill="none" stroke="#0000ff" stroke-width="1.55" stroke-linejoin="miter"/><path d="M506.00 377.30L509.00 382.55L503.00 382.55Z" fill="none" stroke="#0000ff" stroke-width="1.55" stroke-linejoin="miter"/><path d="M510.62 377.30L513.62 382.55L507.62 382.55Z" fill="none" stroke="#0000ff" stroke-width="1.55" stroke-linejoin="miter"/><path d="M515.25 377.30L518.25 382.55L512.25 382.55Z" fill="none" stroke="#0000ff" stroke-width="1.55" stroke-linejoin="miter"/><path d="M519.88 377.30L522.88 382.55L516.88 382.55Z" fill="none" stroke="#0000ff" stroke-width="1.55" stroke-linejoin="miter"/><path d="M524.50 377.30L527.50 382.55L521.50 382.55Z" fill="none" stroke="#0000ff" stroke-width="1.55" stroke-linejoin="miter"/>
</g>
<text x="302.50" y="397.60" font-size="11.1" text-anchor="middle">0</text>
<text x="348.75" y="397.60" font-size="11.1" text-anchor="middle">10</text>
<text x="395.00" y="397.60" font-size="11.1" text-anchor="middle">20</text>
<text x="441.25" y="397.60" font-size="11.1" text-anchor="middle">30</text>
<text x="487.50" y="397.60" font-size="11.1" text-anchor="middle">40</text>
<text x="297.70" y="386.10" font-size="11.1" text-anchor="end">0</text>
<text x="297.70" y="356.24" font-size="11.1" text-anchor="end">5</text>
<text x="297.70" y="326.38" font-size="11.1" text-anchor="end">10</text>
<text x="297.70" y="296.52" font-size="11.1" text-anchor="end">15</text>
<text x="297.70" y="266.66" font-size="11.1" text-anchor="end">20</text>
<text x="297.70" y="236.80" font-size="11.1" text-anchor="end">25</text>
<text x="413.00" y="226.30" font-size="13" text-anchor="middle">(d)</text>
<text transform="translate(277.50 306.65) rotate(-90)" font-size="13.6" text-anchor="middle" textLength="40.6" lengthAdjust="spacingAndGlyphs">FE(m)</text>
<text x="413.50" y="416.2" font-size="14.6" text-anchor="middle">Time step k</text>
</g>
<g id="legend">
<rect x="22.5" y="192.5" width="521.5" height="20" fill="#fff" stroke="#333" stroke-width="1.2"/>
<path d="M26.2 202.7H65.6" stroke="#00ff00" stroke-width="1.8" fill="none"/>
<path d="M46.00 199.20L48.90 202.70L46.00 206.20L43.10 202.70Z" fill="#00ff00"/>
<text x="69.0" y="207.60" font-size="12.7" fill="#000" stroke="#000" stroke-width="0.2" textLength="101.6" lengthAdjust="spacingAndGlyphs">STM−CBMeMBer</text>
<path d="M178.7 202.7H218.2" stroke="#ff0000" stroke-width="1.8" fill="none" stroke-dasharray="7.6 3.3 2 3.3"/>
<circle cx="198.50" cy="202.70" r="2.85" fill="none" stroke="#ff0000" stroke-width="1.5"/>
<text x="221.6" y="207.60" font-size="12.7" fill="#000" stroke="#000" stroke-width="0.2" textLength="62.2" lengthAdjust="spacingAndGlyphs">STM−LMB</text>
<path d="M291.8 202.7H331.6" stroke="#00ffff" stroke-width="1.8" fill="none" stroke-dasharray="1.2 1.45"/>
<rect x="310.00" y="201.20" width="3" height="3" fill="#00ffff"/>
<text x="334.6" y="207.60" font-size="12.7" fill="#000" stroke="#000" stroke-width="0.2" textLength="72.2" lengthAdjust="spacingAndGlyphs">STM−GLMB</text>
<path d="M414.3 202.7H453.5" stroke="#0000ff" stroke-width="1.8" fill="none" stroke-dasharray="9.8 6"/>
<path d="M434.00 199.20L437.00 204.45L431.00 204.45Z" fill="none" stroke="#0000ff" stroke-width="1.55" stroke-linejoin="miter"/>
<text x="457.2" y="207.60" font-size="12.7" fill="#000" stroke="#000" stroke-width="0.2" textLength="84" lengthAdjust="spacingAndGlyphs">R−ST−PMBM</text>
</g>
</svg>
</body></html>
